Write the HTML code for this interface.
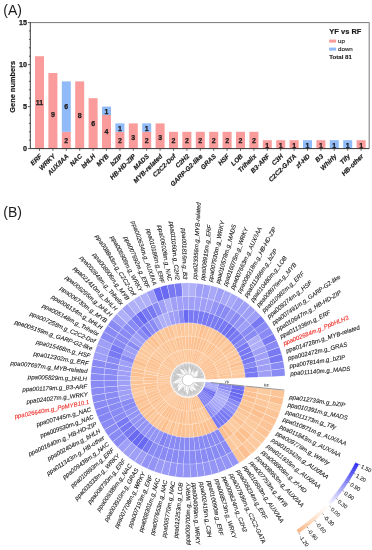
<!DOCTYPE html>
<html><head><meta charset="utf-8"><style>
html,body{margin:0;padding:0;background:#fff;width:372px;height:550px;overflow:hidden}
svg{display:block}
text{font-family:"Liberation Sans",Arial,sans-serif;fill:#1a1a1a}
.bv{font-size:7px;font-weight:bold;text-anchor:middle;stroke:#1a1a1a;stroke-width:0.25px}
.xl{font-size:6.5px;font-weight:bold;font-style:italic;text-anchor:end;stroke:#1a1a1a;stroke-width:0.18px}
.yl{font-size:7.2px;font-weight:bold;text-anchor:end;stroke:#1a1a1a;stroke-width:0.25px}
.yt{font-size:7.4px;font-weight:bold;text-anchor:middle;stroke:#1a1a1a;stroke-width:0.2px}
.lt{font-size:7.5px;font-weight:bold;stroke:#1a1a1a;stroke-width:0.15px}
.lg{font-size:6.2px;stroke:#1a1a1a;stroke-width:0.12px}
.lg2{font-size:6.1px;font-weight:bold;stroke:#1a1a1a;stroke-width:0.12px}
.gl{font-size:6.05px;font-style:italic;dominant-baseline:central;stroke:#1a1a1a;stroke-width:0.1px}
.tn{font-size:3.9px}
.cl{font-size:5.5px;dominant-baseline:central;stroke:#1a1a1a;stroke-width:0.08px}
</style></head><body>
<svg width="372" height="550" viewBox="0 0 372 550">
<rect width="372" height="550" fill="#fff"/>
<text x="3.3" y="15.2" font-size="14" font-family="Liberation Sans, sans-serif">(A)</text>
<text x="3.3" y="217.4" font-size="14" font-family="Liberation Sans, sans-serif">(B)</text>
<rect x="35.00" y="56.20" width="9.0" height="92.40" fill="#fb9c9c"/>
<text x="39.50" y="104.90" class="bv">11</text>
<line x1="39.50" y1="148.6" x2="39.50" y2="150.79999999999998" stroke="#222" stroke-width="0.7"/>
<text transform="translate(42.30,156.60) rotate(-45)" class="xl">ERF</text>
<rect x="48.40" y="73.00" width="9.0" height="75.60" fill="#fb9c9c"/>
<text x="52.90" y="117.00" class="bv">9</text>
<line x1="52.90" y1="148.6" x2="52.90" y2="150.79999999999998" stroke="#222" stroke-width="0.7"/>
<text transform="translate(55.70,156.60) rotate(-45)" class="xl">WRKY</text>
<rect x="61.80" y="131.80" width="9.0" height="16.80" fill="#fb9c9c"/>
<rect x="61.80" y="81.40" width="9.0" height="50.40" fill="#90bbf8"/>
<text x="66.30" y="142.70" class="bv">2</text>
<text x="66.30" y="109.10" class="bv">6</text>
<line x1="66.30" y1="148.6" x2="66.30" y2="150.79999999999998" stroke="#222" stroke-width="0.7"/>
<text transform="translate(69.10,156.60) rotate(-45)" class="xl">AUX/IAA</text>
<rect x="75.20" y="81.40" width="9.0" height="67.20" fill="#fb9c9c"/>
<text x="79.70" y="117.50" class="bv">8</text>
<line x1="79.70" y1="148.6" x2="79.70" y2="150.79999999999998" stroke="#222" stroke-width="0.7"/>
<text transform="translate(82.50,156.60) rotate(-45)" class="xl">NAC</text>
<rect x="88.60" y="98.20" width="9.0" height="50.40" fill="#fb9c9c"/>
<text x="93.10" y="125.90" class="bv">6</text>
<line x1="93.10" y1="148.6" x2="93.10" y2="150.79999999999998" stroke="#222" stroke-width="0.7"/>
<text transform="translate(95.90,156.60) rotate(-45)" class="xl">bHLH</text>
<rect x="102.00" y="115.00" width="9.0" height="33.60" fill="#fb9c9c"/>
<rect x="102.00" y="106.60" width="9.0" height="8.40" fill="#90bbf8"/>
<text x="106.50" y="134.30" class="bv">4</text>
<text x="106.50" y="114.10" class="bv">1</text>
<line x1="106.50" y1="148.6" x2="106.50" y2="150.79999999999998" stroke="#222" stroke-width="0.7"/>
<text transform="translate(109.30,156.60) rotate(-45)" class="xl">MYB</text>
<rect x="115.40" y="131.80" width="9.0" height="16.80" fill="#fb9c9c"/>
<rect x="115.40" y="123.40" width="9.0" height="8.40" fill="#90bbf8"/>
<text x="119.90" y="142.70" class="bv">2</text>
<text x="119.90" y="130.90" class="bv">1</text>
<line x1="119.90" y1="148.6" x2="119.90" y2="150.79999999999998" stroke="#222" stroke-width="0.7"/>
<text transform="translate(122.70,156.60) rotate(-45)" class="xl">bZIP</text>
<rect x="128.80" y="123.40" width="9.0" height="25.20" fill="#fb9c9c"/>
<text x="133.30" y="140.10" class="bv">3</text>
<line x1="133.30" y1="148.6" x2="133.30" y2="150.79999999999998" stroke="#222" stroke-width="0.7"/>
<text transform="translate(136.10,156.60) rotate(-45)" class="xl">HB-HD-ZIP</text>
<rect x="142.20" y="131.80" width="9.0" height="16.80" fill="#fb9c9c"/>
<rect x="142.20" y="123.40" width="9.0" height="8.40" fill="#90bbf8"/>
<text x="146.70" y="142.70" class="bv">2</text>
<text x="146.70" y="130.90" class="bv">1</text>
<line x1="146.70" y1="148.6" x2="146.70" y2="150.79999999999998" stroke="#222" stroke-width="0.7"/>
<text transform="translate(149.50,156.60) rotate(-45)" class="xl">MADS</text>
<rect x="155.60" y="123.40" width="9.0" height="25.20" fill="#fb9c9c"/>
<text x="160.10" y="140.10" class="bv">3</text>
<line x1="160.10" y1="148.6" x2="160.10" y2="150.79999999999998" stroke="#222" stroke-width="0.7"/>
<text transform="translate(162.90,156.60) rotate(-45)" class="xl">MYB-related</text>
<rect x="169.00" y="131.80" width="9.0" height="16.80" fill="#fb9c9c"/>
<text x="173.50" y="142.70" class="bv">2</text>
<line x1="173.50" y1="148.6" x2="173.50" y2="150.79999999999998" stroke="#222" stroke-width="0.7"/>
<text transform="translate(176.30,156.60) rotate(-45)" class="xl">C2C2-Dof</text>
<rect x="182.40" y="131.80" width="9.0" height="16.80" fill="#fb9c9c"/>
<text x="186.90" y="142.70" class="bv">2</text>
<line x1="186.90" y1="148.6" x2="186.90" y2="150.79999999999998" stroke="#222" stroke-width="0.7"/>
<text transform="translate(189.70,156.60) rotate(-45)" class="xl">C2H2</text>
<rect x="195.80" y="131.80" width="9.0" height="16.80" fill="#fb9c9c"/>
<text x="200.30" y="142.70" class="bv">2</text>
<line x1="200.30" y1="148.6" x2="200.30" y2="150.79999999999998" stroke="#222" stroke-width="0.7"/>
<text transform="translate(203.10,156.60) rotate(-45)" class="xl">GARP-G2-like</text>
<rect x="209.20" y="131.80" width="9.0" height="16.80" fill="#fb9c9c"/>
<text x="213.70" y="142.70" class="bv">2</text>
<line x1="213.70" y1="148.6" x2="213.70" y2="150.79999999999998" stroke="#222" stroke-width="0.7"/>
<text transform="translate(216.50,156.60) rotate(-45)" class="xl">GRAS</text>
<rect x="222.60" y="131.80" width="9.0" height="16.80" fill="#fb9c9c"/>
<text x="227.10" y="142.70" class="bv">2</text>
<line x1="227.10" y1="148.6" x2="227.10" y2="150.79999999999998" stroke="#222" stroke-width="0.7"/>
<text transform="translate(229.90,156.60) rotate(-45)" class="xl">HSF</text>
<rect x="236.00" y="131.80" width="9.0" height="16.80" fill="#fb9c9c"/>
<text x="240.50" y="142.70" class="bv">2</text>
<line x1="240.50" y1="148.6" x2="240.50" y2="150.79999999999998" stroke="#222" stroke-width="0.7"/>
<text transform="translate(243.30,156.60) rotate(-45)" class="xl">LOB</text>
<rect x="249.40" y="131.80" width="9.0" height="16.80" fill="#fb9c9c"/>
<text x="253.90" y="142.70" class="bv">2</text>
<line x1="253.90" y1="148.6" x2="253.90" y2="150.79999999999998" stroke="#222" stroke-width="0.7"/>
<text transform="translate(256.70,156.60) rotate(-45)" class="xl">Trihelix</text>
<rect x="262.80" y="140.20" width="9.0" height="8.40" fill="#fb9c9c"/>
<text x="267.30" y="147.50" class="bv">1</text>
<line x1="267.30" y1="148.6" x2="267.30" y2="150.79999999999998" stroke="#222" stroke-width="0.7"/>
<text transform="translate(270.10,156.60) rotate(-45)" class="xl">B3-ARF</text>
<rect x="276.20" y="140.20" width="9.0" height="8.40" fill="#fb9c9c"/>
<text x="280.70" y="147.50" class="bv">1</text>
<line x1="280.70" y1="148.6" x2="280.70" y2="150.79999999999998" stroke="#222" stroke-width="0.7"/>
<text transform="translate(283.50,156.60) rotate(-45)" class="xl">C3H</text>
<rect x="289.60" y="140.20" width="9.0" height="8.40" fill="#fb9c9c"/>
<text x="294.10" y="147.50" class="bv">1</text>
<line x1="294.10" y1="148.6" x2="294.10" y2="150.79999999999998" stroke="#222" stroke-width="0.7"/>
<text transform="translate(296.90,156.60) rotate(-45)" class="xl">C2C2-GATA</text>
<rect x="303.00" y="140.20" width="9.0" height="8.40" fill="#90bbf8"/>
<text x="307.50" y="147.70" class="bv">1</text>
<line x1="307.50" y1="148.6" x2="307.50" y2="150.79999999999998" stroke="#222" stroke-width="0.7"/>
<text transform="translate(310.30,156.60) rotate(-45)" class="xl">zf-HD</text>
<rect x="316.40" y="140.20" width="9.0" height="8.40" fill="#fb9c9c"/>
<text x="320.90" y="147.50" class="bv">1</text>
<line x1="320.90" y1="148.6" x2="320.90" y2="150.79999999999998" stroke="#222" stroke-width="0.7"/>
<text transform="translate(323.70,156.60) rotate(-45)" class="xl">B3</text>
<rect x="329.80" y="140.20" width="9.0" height="8.40" fill="#90bbf8"/>
<text x="334.30" y="147.70" class="bv">1</text>
<line x1="334.30" y1="148.6" x2="334.30" y2="150.79999999999998" stroke="#222" stroke-width="0.7"/>
<text transform="translate(337.10,156.60) rotate(-45)" class="xl">Whirly</text>
<rect x="343.20" y="140.20" width="9.0" height="8.40" fill="#90bbf8"/>
<text x="347.70" y="147.70" class="bv">1</text>
<line x1="347.70" y1="148.6" x2="347.70" y2="150.79999999999998" stroke="#222" stroke-width="0.7"/>
<text transform="translate(350.50,156.60) rotate(-45)" class="xl">Tify</text>
<rect x="356.60" y="140.20" width="9.0" height="8.40" fill="#fb9c9c"/>
<text x="361.10" y="147.50" class="bv">1</text>
<line x1="361.10" y1="148.6" x2="361.10" y2="150.79999999999998" stroke="#222" stroke-width="0.7"/>
<text transform="translate(363.90,156.60) rotate(-45)" class="xl">HB-other</text>
<path d="M30.3,22.599999999999994 H369.2 V148.6" fill="none" stroke="#555" stroke-width="0.8"/>
<line x1="30.3" y1="22.199999999999996" x2="30.3" y2="149.0" stroke="#222" stroke-width="0.9"/>
<line x1="30.3" y1="148.6" x2="369.2" y2="148.6" stroke="#222" stroke-width="0.9"/>
<line x1="27.90" y1="148.60" x2="30.3" y2="148.60" stroke="#222" stroke-width="0.7"/>
<text x="27.10" y="151.10" class="yl">0</text>
<line x1="28.90" y1="140.20" x2="30.3" y2="140.20" stroke="#222" stroke-width="0.7"/>
<line x1="28.90" y1="131.80" x2="30.3" y2="131.80" stroke="#222" stroke-width="0.7"/>
<line x1="28.90" y1="123.40" x2="30.3" y2="123.40" stroke="#222" stroke-width="0.7"/>
<line x1="28.90" y1="115.00" x2="30.3" y2="115.00" stroke="#222" stroke-width="0.7"/>
<line x1="27.90" y1="106.60" x2="30.3" y2="106.60" stroke="#222" stroke-width="0.7"/>
<text x="27.10" y="109.10" class="yl">5</text>
<line x1="28.90" y1="98.20" x2="30.3" y2="98.20" stroke="#222" stroke-width="0.7"/>
<line x1="28.90" y1="89.80" x2="30.3" y2="89.80" stroke="#222" stroke-width="0.7"/>
<line x1="28.90" y1="81.40" x2="30.3" y2="81.40" stroke="#222" stroke-width="0.7"/>
<line x1="28.90" y1="73.00" x2="30.3" y2="73.00" stroke="#222" stroke-width="0.7"/>
<line x1="27.90" y1="64.60" x2="30.3" y2="64.60" stroke="#222" stroke-width="0.7"/>
<text x="27.10" y="67.10" class="yl">10</text>
<line x1="28.90" y1="56.20" x2="30.3" y2="56.20" stroke="#222" stroke-width="0.7"/>
<line x1="28.90" y1="47.80" x2="30.3" y2="47.80" stroke="#222" stroke-width="0.7"/>
<line x1="28.90" y1="39.40" x2="30.3" y2="39.40" stroke="#222" stroke-width="0.7"/>
<line x1="28.90" y1="31.00" x2="30.3" y2="31.00" stroke="#222" stroke-width="0.7"/>
<line x1="27.90" y1="22.60" x2="30.3" y2="22.60" stroke="#222" stroke-width="0.7"/>
<text x="27.10" y="25.10" class="yl">15</text>
<text transform="translate(14.9,86.8) rotate(-90)" class="yt">Gene numbers</text>
<text x="329.3" y="34.4" class="lt">YF vs RF</text>
<rect x="329.1" y="39.6" width="7" height="3" fill="#fb9c9c"/>
<rect x="329.1" y="47.6" width="7" height="3" fill="#90bbf8"/>
<text x="338" y="43.2" class="lg">up</text>
<text x="338" y="51.2" class="lg">down</text>
<text x="329.3" y="59.3" class="lg2">Total 81</text>
<g>
<path d="M218.57,383.53A30.85,30.85 0 0 1 218.23,385.84L205.20,383.42A17.60,17.60 0 0 0 205.40,382.10Z" fill="#a8a8f8" stroke="#a8a8f8" stroke-width="0.15"/>
<path d="M231.74,384.96A44.10,44.10 0 0 1 231.26,388.26L218.23,385.84A30.85,30.85 0 0 0 218.57,383.53Z" fill="#8a8af5" stroke="#8a8af5" stroke-width="0.15"/>
<path d="M244.91,386.39A57.35,57.35 0 0 1 244.28,390.69L231.26,388.26A44.10,44.10 0 0 0 231.74,384.96Z" fill="#7171f2" stroke="#7171f2" stroke-width="0.15"/>
<path d="M258.09,387.82A70.60,70.60 0 0 1 257.31,393.11L244.28,390.69A57.35,57.35 0 0 0 244.91,386.39Z" fill="#fcc496" stroke="#fcc698" stroke-width="0.15"/>
<path d="M271.26,389.26A83.85,83.85 0 0 1 270.34,395.53L257.31,393.11A70.60,70.60 0 0 0 258.09,387.82Z" fill="#fcca9f" stroke="#fcc596" stroke-width="0.15"/>
<path d="M284.43,390.69A97.10,97.10 0 0 1 283.36,397.95L270.34,395.53A83.85,83.85 0 0 0 271.26,389.26Z" fill="#fcc597" stroke="#fcc699" stroke-width="0.15"/>
<path d="M218.23,385.84A30.85,30.85 0 0 1 217.72,388.12L204.91,384.72A17.60,17.60 0 0 0 205.20,383.42Z" fill="#a8a8f8" stroke="#a8a8f8" stroke-width="0.15"/>
<path d="M231.26,388.26A44.10,44.10 0 0 1 230.52,391.52L217.72,388.12A30.85,30.85 0 0 0 218.23,385.84Z" fill="#8a8af5" stroke="#8a8af5" stroke-width="0.15"/>
<path d="M244.28,390.69A57.35,57.35 0 0 1 243.33,394.92L230.52,391.52A44.10,44.10 0 0 0 231.26,388.26Z" fill="#6969f1" stroke="#6969f1" stroke-width="0.15"/>
<path d="M257.31,393.11A70.60,70.60 0 0 1 256.14,398.32L243.33,394.92A57.35,57.35 0 0 0 244.28,390.69Z" fill="#fcc191" stroke="#fcc597" stroke-width="0.15"/>
<path d="M270.34,395.53A83.85,83.85 0 0 1 268.94,401.72L256.14,398.32A70.60,70.60 0 0 0 257.31,393.11Z" fill="#fcc799" stroke="#fcc99c" stroke-width="0.15"/>
<path d="M283.36,397.95A97.10,97.10 0 0 1 281.75,405.12L268.94,401.72A83.85,83.85 0 0 0 270.34,395.53Z" fill="#fcc090" stroke="#fcc393" stroke-width="0.15"/>
<path d="M217.72,388.12A30.85,30.85 0 0 1 217.03,390.35L204.52,385.99A17.60,17.60 0 0 0 204.91,384.72Z" fill="#a8a8f8" stroke="#a8a8f8" stroke-width="0.15"/>
<path d="M230.52,391.52A44.10,44.10 0 0 1 229.55,394.71L217.03,390.35A30.85,30.85 0 0 0 217.72,388.12Z" fill="#9f9ff7" stroke="#9f9ff7" stroke-width="0.15"/>
<path d="M243.33,394.92A57.35,57.35 0 0 1 242.06,399.07L229.55,394.71A44.10,44.10 0 0 0 230.52,391.52Z" fill="#6969f1" stroke="#6969f1" stroke-width="0.15"/>
<path d="M256.14,398.32A70.60,70.60 0 0 1 254.57,403.43L242.06,399.07A57.35,57.35 0 0 0 243.33,394.92Z" fill="#fcc090" stroke="#fcc99d" stroke-width="0.15"/>
<path d="M268.94,401.72A83.85,83.85 0 0 1 267.08,407.79L254.57,403.43A70.60,70.60 0 0 0 256.14,398.32Z" fill="#fcc79a" stroke="#fcc08f" stroke-width="0.15"/>
<path d="M281.75,405.12A97.10,97.10 0 0 1 279.59,412.14L267.08,407.79A83.85,83.85 0 0 0 268.94,401.72Z" fill="#fccba0" stroke="#fccb9f" stroke-width="0.15"/>
<path d="M217.03,390.35A30.85,30.85 0 0 1 216.18,392.52L204.03,387.23A17.60,17.60 0 0 0 204.52,385.99Z" fill="#9f9ff7" stroke="#9f9ff7" stroke-width="0.15"/>
<path d="M229.55,394.71A44.10,44.10 0 0 1 228.33,397.82L216.18,392.52A30.85,30.85 0 0 0 217.03,390.35Z" fill="#a8a8f8" stroke="#a8a8f8" stroke-width="0.15"/>
<path d="M242.06,399.07A57.35,57.35 0 0 1 240.48,403.11L228.33,397.82A44.10,44.10 0 0 0 229.55,394.71Z" fill="#7171f2" stroke="#7171f2" stroke-width="0.15"/>
<path d="M254.57,403.43A70.60,70.60 0 0 1 252.62,408.40L240.48,403.11A57.35,57.35 0 0 0 242.06,399.07Z" fill="#fcc79a" stroke="#fcc699" stroke-width="0.15"/>
<path d="M267.08,407.79A83.85,83.85 0 0 1 264.77,413.69L252.62,408.40A70.60,70.60 0 0 0 254.57,403.43Z" fill="#fcc191" stroke="#fcbf8e" stroke-width="0.15"/>
<path d="M279.59,412.14A97.10,97.10 0 0 1 276.92,418.99L264.77,413.69A83.85,83.85 0 0 0 267.08,407.79Z" fill="#fcc598" stroke="#fcc08f" stroke-width="0.15"/>
<path d="M216.18,392.52A30.85,30.85 0 0 1 215.17,394.63L203.46,388.43A17.60,17.60 0 0 0 204.03,387.23Z" fill="#7171f2" stroke="#7171f2" stroke-width="0.15"/>
<path d="M228.33,397.82A44.10,44.10 0 0 1 226.88,400.82L215.17,394.63A30.85,30.85 0 0 0 216.18,392.52Z" fill="#b0b0f9" stroke="#b0b0f9" stroke-width="0.15"/>
<path d="M240.48,403.11A57.35,57.35 0 0 1 238.59,407.02L226.88,400.82A44.10,44.10 0 0 0 228.33,397.82Z" fill="#8a8af5" stroke="#8a8af5" stroke-width="0.15"/>
<path d="M252.62,408.40A70.60,70.60 0 0 1 250.31,413.21L238.59,407.02A57.35,57.35 0 0 0 240.48,403.11Z" fill="#fcc191" stroke="#fcc292" stroke-width="0.15"/>
<path d="M264.77,413.69A83.85,83.85 0 0 1 262.02,419.41L250.31,413.21A70.60,70.60 0 0 0 252.62,408.40Z" fill="#fcbf8f" stroke="#fcc596" stroke-width="0.15"/>
<path d="M276.92,418.99A97.10,97.10 0 0 1 273.73,425.60L262.02,419.41A83.85,83.85 0 0 0 264.77,413.69Z" fill="#fcc496" stroke="#fcc99d" stroke-width="0.15"/>
<path d="M215.17,394.63A30.85,30.85 0 0 1 214.00,396.65L202.79,389.58A17.60,17.60 0 0 0 203.46,388.43Z" fill="#6969f1" stroke="#6969f1" stroke-width="0.15"/>
<path d="M226.88,400.82A44.10,44.10 0 0 1 225.21,403.71L214.00,396.65A30.85,30.85 0 0 0 215.17,394.63Z" fill="#b0b0f9" stroke="#b0b0f9" stroke-width="0.15"/>
<path d="M238.59,407.02A57.35,57.35 0 0 1 236.42,410.77L225.21,403.71A44.10,44.10 0 0 0 226.88,400.82Z" fill="#9494f6" stroke="#9494f6" stroke-width="0.15"/>
<path d="M250.31,413.21A70.60,70.60 0 0 1 247.63,417.84L236.42,410.77A57.35,57.35 0 0 0 238.59,407.02Z" fill="#fcc597" stroke="#fcc79a" stroke-width="0.15"/>
<path d="M262.02,419.41A83.85,83.85 0 0 1 258.84,424.90L247.63,417.84A70.60,70.60 0 0 0 250.31,413.21Z" fill="#fcc597" stroke="#fcc79a" stroke-width="0.15"/>
<path d="M273.73,425.60A97.10,97.10 0 0 1 270.05,431.96L258.84,424.90A83.85,83.85 0 0 0 262.02,419.41Z" fill="#fcc496" stroke="#fcc293" stroke-width="0.15"/>
<path d="M214.00,396.65A30.85,30.85 0 0 1 212.68,398.57L202.04,390.68A17.60,17.60 0 0 0 202.79,389.58Z" fill="#7979f3" stroke="#7979f3" stroke-width="0.15"/>
<path d="M225.21,403.71A44.10,44.10 0 0 1 223.33,406.46L212.68,398.57A30.85,30.85 0 0 0 214.00,396.65Z" fill="#b0b0f9" stroke="#b0b0f9" stroke-width="0.15"/>
<path d="M236.42,410.77A57.35,57.35 0 0 1 233.97,414.35L223.33,406.46A44.10,44.10 0 0 0 225.21,403.71Z" fill="#9494f6" stroke="#9494f6" stroke-width="0.15"/>
<path d="M247.63,417.84A70.60,70.60 0 0 1 244.62,422.24L233.97,414.35A57.35,57.35 0 0 0 236.42,410.77Z" fill="#fccba0" stroke="#fccba0" stroke-width="0.15"/>
<path d="M258.84,424.90A83.85,83.85 0 0 1 255.26,430.14L244.62,422.24A70.60,70.60 0 0 0 247.63,417.84Z" fill="#fcc99d" stroke="#fcc79b" stroke-width="0.15"/>
<path d="M270.05,431.96A97.10,97.10 0 0 1 265.90,438.03L255.26,430.14A83.85,83.85 0 0 0 258.84,424.90Z" fill="#fcc394" stroke="#fcc292" stroke-width="0.15"/>
<path d="M212.68,398.57A30.85,30.85 0 0 1 211.22,400.39L201.21,391.72A17.60,17.60 0 0 0 202.04,390.68Z" fill="#8282f4" stroke="#8282f4" stroke-width="0.15"/>
<path d="M223.33,406.46A44.10,44.10 0 0 1 221.24,409.07L211.22,400.39A30.85,30.85 0 0 0 212.68,398.57Z" fill="#a8a8f8" stroke="#a8a8f8" stroke-width="0.15"/>
<path d="M233.97,414.35A57.35,57.35 0 0 1 231.26,417.74L221.24,409.07A44.10,44.10 0 0 0 223.33,406.46Z" fill="#8282f4" stroke="#8282f4" stroke-width="0.15"/>
<path d="M244.62,422.24A70.60,70.60 0 0 1 241.27,426.41L231.26,417.74A57.35,57.35 0 0 0 233.97,414.35Z" fill="#fcc293" stroke="#fcc08f" stroke-width="0.15"/>
<path d="M255.26,430.14A83.85,83.85 0 0 1 251.29,435.08L241.27,426.41A70.60,70.60 0 0 0 244.62,422.24Z" fill="#fcc89c" stroke="#fcc495" stroke-width="0.15"/>
<path d="M265.90,438.03A97.10,97.10 0 0 1 261.31,443.76L251.29,435.08A83.85,83.85 0 0 0 255.26,430.14Z" fill="#fcc99d" stroke="#fcc495" stroke-width="0.15"/>
<path d="M211.22,400.39A30.85,30.85 0 0 1 209.63,402.10L200.30,392.69A17.60,17.60 0 0 0 201.21,391.72Z" fill="#8282f4" stroke="#8282f4" stroke-width="0.15"/>
<path d="M221.24,409.07A44.10,44.10 0 0 1 218.96,411.50L209.63,402.10A30.85,30.85 0 0 0 211.22,400.39Z" fill="#a8a8f8" stroke="#a8a8f8" stroke-width="0.15"/>
<path d="M231.26,417.74A57.35,57.35 0 0 1 228.29,420.91L218.96,411.50A44.10,44.10 0 0 0 221.24,409.07Z" fill="#7979f3" stroke="#7979f3" stroke-width="0.15"/>
<path d="M241.27,426.41A70.60,70.60 0 0 1 237.63,430.31L228.29,420.91A57.35,57.35 0 0 0 231.26,417.74Z" fill="#fcca9f" stroke="#fcc99d" stroke-width="0.15"/>
<path d="M251.29,435.08A83.85,83.85 0 0 1 246.96,439.72L237.63,430.31A70.60,70.60 0 0 0 241.27,426.41Z" fill="#fcbf8e" stroke="#fcc292" stroke-width="0.15"/>
<path d="M261.31,443.76A97.10,97.10 0 0 1 256.29,449.13L246.96,439.72A83.85,83.85 0 0 0 251.29,435.08Z" fill="#fcca9e" stroke="#fcc596" stroke-width="0.15"/>
<path d="M209.63,402.10A30.85,30.85 0 0 1 207.91,403.68L199.32,393.59A17.60,17.60 0 0 0 200.30,392.69Z" fill="#8282f4" stroke="#8282f4" stroke-width="0.15"/>
<path d="M218.96,411.50A44.10,44.10 0 0 1 216.51,413.76L207.91,403.68A30.85,30.85 0 0 0 209.63,402.10Z" fill="#9f9ff7" stroke="#9f9ff7" stroke-width="0.15"/>
<path d="M228.29,420.91A57.35,57.35 0 0 1 225.10,423.85L216.51,413.76A44.10,44.10 0 0 0 218.96,411.50Z" fill="#7979f3" stroke="#7979f3" stroke-width="0.15"/>
<path d="M237.63,430.31A70.60,70.60 0 0 1 233.70,433.93L225.10,423.85A57.35,57.35 0 0 0 228.29,420.91Z" fill="#fccba0" stroke="#fcc495" stroke-width="0.15"/>
<path d="M246.96,439.72A83.85,83.85 0 0 1 242.29,444.02L233.70,433.93A70.60,70.60 0 0 0 237.63,430.31Z" fill="#fcc08f" stroke="#fcc799" stroke-width="0.15"/>
<path d="M256.29,449.13A97.10,97.10 0 0 1 250.89,454.10L242.29,444.02A83.85,83.85 0 0 0 246.96,439.72Z" fill="#fcc89c" stroke="#fcc293" stroke-width="0.15"/>
<path d="M207.91,403.68A30.85,30.85 0 0 1 206.08,405.12L198.27,394.42A17.60,17.60 0 0 0 199.32,393.59Z" fill="#8282f4" stroke="#8282f4" stroke-width="0.15"/>
<path d="M216.51,413.76A44.10,44.10 0 0 1 213.89,415.83L206.08,405.12A30.85,30.85 0 0 0 207.91,403.68Z" fill="#9494f6" stroke="#9494f6" stroke-width="0.15"/>
<path d="M225.10,423.85A57.35,57.35 0 0 1 221.70,426.53L213.89,415.83A44.10,44.10 0 0 0 216.51,413.76Z" fill="#7979f3" stroke="#7979f3" stroke-width="0.15"/>
<path d="M233.70,433.93A70.60,70.60 0 0 1 229.50,437.24L221.70,426.53A57.35,57.35 0 0 0 225.10,423.85Z" fill="#fcc090" stroke="#fcc394" stroke-width="0.15"/>
<path d="M242.29,444.02A83.85,83.85 0 0 1 237.31,447.94L229.50,437.24A70.60,70.60 0 0 0 233.70,433.93Z" fill="#fccb9f" stroke="#fcc89c" stroke-width="0.15"/>
<path d="M250.89,454.10A97.10,97.10 0 0 1 245.12,458.65L237.31,447.94A83.85,83.85 0 0 0 242.29,444.02Z" fill="#fcc090" stroke="#fcc292" stroke-width="0.15"/>
<path d="M206.08,405.12A30.85,30.85 0 0 1 204.14,406.43L197.17,395.16A17.60,17.60 0 0 0 198.27,394.42Z" fill="#8282f4" stroke="#8282f4" stroke-width="0.15"/>
<path d="M213.89,415.83A44.10,44.10 0 0 1 211.12,417.69L204.14,406.43A30.85,30.85 0 0 0 206.08,405.12Z" fill="#8a8af5" stroke="#8a8af5" stroke-width="0.15"/>
<path d="M221.70,426.53A57.35,57.35 0 0 1 218.10,428.96L211.12,417.69A44.10,44.10 0 0 0 213.89,415.83Z" fill="#7979f3" stroke="#7979f3" stroke-width="0.15"/>
<path d="M229.50,437.24A70.60,70.60 0 0 1 225.07,440.22L218.10,428.96A57.35,57.35 0 0 0 221.70,426.53Z" fill="#fcc090" stroke="#fcc08f" stroke-width="0.15"/>
<path d="M237.31,447.94A83.85,83.85 0 0 1 232.05,451.49L225.07,440.22A70.60,70.60 0 0 0 229.50,437.24Z" fill="#fcc99c" stroke="#fcc191" stroke-width="0.15"/>
<path d="M245.12,458.65A97.10,97.10 0 0 1 239.02,462.75L232.05,451.49A83.85,83.85 0 0 0 237.31,447.94Z" fill="#fcc698" stroke="#fcc496" stroke-width="0.15"/>
<path d="M204.14,406.43A30.85,30.85 0 0 1 202.11,407.58L196.01,395.82A17.60,17.60 0 0 0 197.17,395.16Z" fill="#fcc191" stroke="#fcc89b" stroke-width="0.15"/>
<path d="M211.12,417.69A44.10,44.10 0 0 1 208.22,419.34L202.11,407.58A30.85,30.85 0 0 0 204.14,406.43Z" fill="#fcc190" stroke="#fcc79a" stroke-width="0.15"/>
<path d="M218.10,428.96A57.35,57.35 0 0 1 214.32,431.10L208.22,419.34A44.10,44.10 0 0 0 211.12,417.69Z" fill="#fcc090" stroke="#fcc496" stroke-width="0.15"/>
<path d="M225.07,440.22A70.60,70.60 0 0 1 220.43,442.86L214.32,431.10A57.35,57.35 0 0 0 218.10,428.96Z" fill="#8a8af5" stroke="#8a8af5" stroke-width="0.15"/>
<path d="M232.05,451.49A83.85,83.85 0 0 1 226.53,454.62L220.43,442.86A70.60,70.60 0 0 0 225.07,440.22Z" fill="#8a8af5" stroke="#8a8af5" stroke-width="0.15"/>
<path d="M239.02,462.75A97.10,97.10 0 0 1 232.64,466.38L226.53,454.62A83.85,83.85 0 0 0 232.05,451.49Z" fill="#9494f6" stroke="#9494f6" stroke-width="0.15"/>
<path d="M202.11,407.58A30.85,30.85 0 0 1 200.00,408.58L194.80,396.39A17.60,17.60 0 0 0 196.01,395.82Z" fill="#fcc292" stroke="#fcc293" stroke-width="0.15"/>
<path d="M208.22,419.34A44.10,44.10 0 0 1 205.20,420.76L200.00,408.58A30.85,30.85 0 0 0 202.11,407.58Z" fill="#fccb9f" stroke="#fcc99c" stroke-width="0.15"/>
<path d="M214.32,431.10A57.35,57.35 0 0 1 210.40,432.95L205.20,420.76A44.10,44.10 0 0 0 208.22,419.34Z" fill="#fcc393" stroke="#fcca9e" stroke-width="0.15"/>
<path d="M220.43,442.86A70.60,70.60 0 0 1 215.60,445.14L210.40,432.95A57.35,57.35 0 0 0 214.32,431.10Z" fill="#8a8af5" stroke="#8a8af5" stroke-width="0.15"/>
<path d="M226.53,454.62A83.85,83.85 0 0 1 220.80,457.33L215.60,445.14A70.60,70.60 0 0 0 220.43,442.86Z" fill="#8a8af5" stroke="#8a8af5" stroke-width="0.15"/>
<path d="M232.64,466.38A97.10,97.10 0 0 1 225.99,469.52L220.80,457.33A83.85,83.85 0 0 0 226.53,454.62Z" fill="#9494f6" stroke="#9494f6" stroke-width="0.15"/>
<path d="M200.00,408.58A30.85,30.85 0 0 1 197.82,409.41L193.56,396.86A17.60,17.60 0 0 0 194.80,396.39Z" fill="#fcc292" stroke="#fcc495" stroke-width="0.15"/>
<path d="M205.20,420.76A44.10,44.10 0 0 1 202.08,421.96L197.82,409.41A30.85,30.85 0 0 0 200.00,408.58Z" fill="#fcc99d" stroke="#fcc79a" stroke-width="0.15"/>
<path d="M210.40,432.95A57.35,57.35 0 0 1 206.35,434.50L202.08,421.96A44.10,44.10 0 0 0 205.20,420.76Z" fill="#fcc090" stroke="#fccba0" stroke-width="0.15"/>
<path d="M215.60,445.14A70.60,70.60 0 0 1 210.61,447.05L206.35,434.50A57.35,57.35 0 0 0 210.40,432.95Z" fill="#8a8af5" stroke="#8a8af5" stroke-width="0.15"/>
<path d="M220.80,457.33A83.85,83.85 0 0 1 214.87,459.59L210.61,447.05A70.60,70.60 0 0 0 215.60,445.14Z" fill="#8a8af5" stroke="#8a8af5" stroke-width="0.15"/>
<path d="M225.99,469.52A97.10,97.10 0 0 1 219.13,472.14L214.87,459.59A83.85,83.85 0 0 0 220.80,457.33Z" fill="#9494f6" stroke="#9494f6" stroke-width="0.15"/>
<path d="M197.82,409.41A30.85,30.85 0 0 1 195.59,410.08L192.29,397.24A17.60,17.60 0 0 0 193.56,396.86Z" fill="#fcc292" stroke="#fcc293" stroke-width="0.15"/>
<path d="M202.08,421.96A44.10,44.10 0 0 1 198.89,422.91L195.59,410.08A30.85,30.85 0 0 0 197.82,409.41Z" fill="#fcc89c" stroke="#fcc394" stroke-width="0.15"/>
<path d="M206.35,434.50A57.35,57.35 0 0 1 202.19,435.74L198.89,422.91A44.10,44.10 0 0 0 202.08,421.96Z" fill="#fcc393" stroke="#fcc08f" stroke-width="0.15"/>
<path d="M210.61,447.05A70.60,70.60 0 0 1 205.49,448.57L202.19,435.74A57.35,57.35 0 0 0 206.35,434.50Z" fill="#8a8af5" stroke="#8a8af5" stroke-width="0.15"/>
<path d="M214.87,459.59A83.85,83.85 0 0 1 208.79,461.41L205.49,448.57A70.60,70.60 0 0 0 210.61,447.05Z" fill="#8a8af5" stroke="#8a8af5" stroke-width="0.15"/>
<path d="M219.13,472.14A97.10,97.10 0 0 1 212.09,474.24L208.79,461.41A83.85,83.85 0 0 0 214.87,459.59Z" fill="#9494f6" stroke="#9494f6" stroke-width="0.15"/>
<path d="M195.59,410.08A30.85,30.85 0 0 1 193.31,410.57L190.98,397.53A17.60,17.60 0 0 0 192.29,397.24Z" fill="#fcc090" stroke="#fcc698" stroke-width="0.15"/>
<path d="M198.89,422.91A44.10,44.10 0 0 1 195.63,423.62L193.31,410.57A30.85,30.85 0 0 0 195.59,410.08Z" fill="#fcc292" stroke="#fcc699" stroke-width="0.15"/>
<path d="M202.19,435.74A57.35,57.35 0 0 1 197.95,436.66L195.63,423.62A44.10,44.10 0 0 0 198.89,422.91Z" fill="#fcc395" stroke="#fcc496" stroke-width="0.15"/>
<path d="M205.49,448.57A70.60,70.60 0 0 1 200.27,449.71L197.95,436.66A57.35,57.35 0 0 0 202.19,435.74Z" fill="#8a8af5" stroke="#8a8af5" stroke-width="0.15"/>
<path d="M208.79,461.41A83.85,83.85 0 0 1 202.59,462.75L200.27,449.71A70.60,70.60 0 0 0 205.49,448.57Z" fill="#8a8af5" stroke="#8a8af5" stroke-width="0.15"/>
<path d="M212.09,474.24A97.10,97.10 0 0 1 204.91,475.80L202.59,462.75A83.85,83.85 0 0 0 208.79,461.41Z" fill="#9494f6" stroke="#9494f6" stroke-width="0.15"/>
<path d="M193.31,410.57A30.85,30.85 0 0 1 190.99,410.89L189.67,397.71A17.60,17.60 0 0 0 190.98,397.53Z" fill="#fccb9f" stroke="#fcc597" stroke-width="0.15"/>
<path d="M195.63,423.62A44.10,44.10 0 0 1 192.32,424.08L190.99,410.89A30.85,30.85 0 0 0 193.31,410.57Z" fill="#fcc698" stroke="#fcc99e" stroke-width="0.15"/>
<path d="M197.95,436.66A57.35,57.35 0 0 1 193.65,437.26L192.32,424.08A44.10,44.10 0 0 0 195.63,423.62Z" fill="#fcc191" stroke="#fcc191" stroke-width="0.15"/>
<path d="M200.27,449.71A70.60,70.60 0 0 1 194.98,450.44L193.65,437.26A57.35,57.35 0 0 0 197.95,436.66Z" fill="#8a8af5" stroke="#8a8af5" stroke-width="0.15"/>
<path d="M202.59,462.75A83.85,83.85 0 0 1 196.31,463.63L194.98,450.44A70.60,70.60 0 0 0 200.27,449.71Z" fill="#8a8af5" stroke="#8a8af5" stroke-width="0.15"/>
<path d="M204.91,475.80A97.10,97.10 0 0 1 197.64,476.81L196.31,463.63A83.85,83.85 0 0 0 202.59,462.75Z" fill="#9494f6" stroke="#9494f6" stroke-width="0.15"/>
<path d="M190.99,410.89A30.85,30.85 0 0 1 188.66,411.04L188.34,397.79A17.60,17.60 0 0 0 189.67,397.71Z" fill="#fcca9e" stroke="#fcc99d" stroke-width="0.15"/>
<path d="M192.32,424.08A44.10,44.10 0 0 1 188.99,424.29L188.66,411.04A30.85,30.85 0 0 0 190.99,410.89Z" fill="#fcc292" stroke="#fcc191" stroke-width="0.15"/>
<path d="M193.65,437.26A57.35,57.35 0 0 1 189.32,437.53L188.99,424.29A44.10,44.10 0 0 0 192.32,424.08Z" fill="#fcc89b" stroke="#fcca9f" stroke-width="0.15"/>
<path d="M194.98,450.44A70.60,70.60 0 0 1 189.65,450.78L189.32,437.53A57.35,57.35 0 0 0 193.65,437.26Z" fill="#8a8af5" stroke="#8a8af5" stroke-width="0.15"/>
<path d="M196.31,463.63A83.85,83.85 0 0 1 189.98,464.02L189.65,450.78A70.60,70.60 0 0 0 194.98,450.44Z" fill="#8a8af5" stroke="#8a8af5" stroke-width="0.15"/>
<path d="M197.64,476.81A97.10,97.10 0 0 1 190.31,477.27L189.98,464.02A83.85,83.85 0 0 0 196.31,463.63Z" fill="#9494f6" stroke="#9494f6" stroke-width="0.15"/>
<path d="M188.66,411.04A30.85,30.85 0 0 1 186.33,411.01L187.00,397.78A17.60,17.60 0 0 0 188.34,397.79Z" fill="#fcc192" stroke="#fcca9f" stroke-width="0.15"/>
<path d="M188.99,424.29A44.10,44.10 0 0 1 185.66,424.24L186.33,411.01A30.85,30.85 0 0 0 188.66,411.04Z" fill="#fcca9e" stroke="#fcc699" stroke-width="0.15"/>
<path d="M189.32,437.53A57.35,57.35 0 0 1 184.98,437.48L185.66,424.24A44.10,44.10 0 0 0 188.99,424.29Z" fill="#fcc496" stroke="#fcc090" stroke-width="0.15"/>
<path d="M189.65,450.78A70.60,70.60 0 0 1 184.31,450.71L184.98,437.48A57.35,57.35 0 0 0 189.32,437.53Z" fill="#8a8af5" stroke="#8a8af5" stroke-width="0.15"/>
<path d="M189.98,464.02A83.85,83.85 0 0 1 183.63,463.94L184.31,450.71A70.60,70.60 0 0 0 189.65,450.78Z" fill="#8a8af5" stroke="#8a8af5" stroke-width="0.15"/>
<path d="M190.31,477.27A97.10,97.10 0 0 1 182.96,477.17L183.63,463.94A83.85,83.85 0 0 0 189.98,464.02Z" fill="#9494f6" stroke="#9494f6" stroke-width="0.15"/>
<path d="M186.33,411.01A30.85,30.85 0 0 1 184.01,410.80L185.68,397.66A17.60,17.60 0 0 0 187.00,397.78Z" fill="#fcbf8f" stroke="#fccb9f" stroke-width="0.15"/>
<path d="M185.66,424.24A44.10,44.10 0 0 1 182.33,423.95L184.01,410.80A30.85,30.85 0 0 0 186.33,411.01Z" fill="#fcc292" stroke="#fcc79b" stroke-width="0.15"/>
<path d="M184.98,437.48A57.35,57.35 0 0 1 180.66,437.09L182.33,423.95A44.10,44.10 0 0 0 185.66,424.24Z" fill="#fcc293" stroke="#fcc99d" stroke-width="0.15"/>
<path d="M184.31,450.71A70.60,70.60 0 0 1 178.99,450.24L180.66,437.09A57.35,57.35 0 0 0 184.98,437.48Z" fill="#8a8af5" stroke="#8a8af5" stroke-width="0.15"/>
<path d="M183.63,463.94A83.85,83.85 0 0 1 177.32,463.38L178.99,450.24A70.60,70.60 0 0 0 184.31,450.71Z" fill="#8a8af5" stroke="#8a8af5" stroke-width="0.15"/>
<path d="M182.96,477.17A97.10,97.10 0 0 1 175.64,476.52L177.32,463.38A83.85,83.85 0 0 0 183.63,463.94Z" fill="#9494f6" stroke="#9494f6" stroke-width="0.15"/>
<path d="M184.01,410.80A30.85,30.85 0 0 1 181.70,410.42L184.36,397.44A17.60,17.60 0 0 0 185.68,397.66Z" fill="#fcc699" stroke="#fcc393" stroke-width="0.15"/>
<path d="M182.33,423.95A44.10,44.10 0 0 1 179.04,423.40L181.70,410.42A30.85,30.85 0 0 0 184.01,410.80Z" fill="#fcc191" stroke="#fcc89b" stroke-width="0.15"/>
<path d="M180.66,437.09A57.35,57.35 0 0 1 176.38,436.38L179.04,423.40A44.10,44.10 0 0 0 182.33,423.95Z" fill="#fcc08f" stroke="#fcc292" stroke-width="0.15"/>
<path d="M178.99,450.24A70.60,70.60 0 0 1 173.72,449.36L176.38,436.38A57.35,57.35 0 0 0 180.66,437.09Z" fill="#8a8af5" stroke="#8a8af5" stroke-width="0.15"/>
<path d="M177.32,463.38A83.85,83.85 0 0 1 171.06,462.34L173.72,449.36A70.60,70.60 0 0 0 178.99,450.24Z" fill="#8a8af5" stroke="#8a8af5" stroke-width="0.15"/>
<path d="M175.64,476.52A97.10,97.10 0 0 1 168.40,475.32L171.06,462.34A83.85,83.85 0 0 0 177.32,463.38Z" fill="#9494f6" stroke="#9494f6" stroke-width="0.15"/>
<path d="M181.70,410.42A30.85,30.85 0 0 1 179.44,409.87L183.07,397.12A17.60,17.60 0 0 0 184.36,397.44Z" fill="#fcc698" stroke="#fcc99d" stroke-width="0.15"/>
<path d="M179.04,423.40A44.10,44.10 0 0 1 175.80,422.61L179.44,409.87A30.85,30.85 0 0 0 181.70,410.42Z" fill="#fcc699" stroke="#fcc293" stroke-width="0.15"/>
<path d="M176.38,436.38A57.35,57.35 0 0 1 172.17,435.35L175.80,422.61A44.10,44.10 0 0 0 179.04,423.40Z" fill="#fcca9f" stroke="#fcc192" stroke-width="0.15"/>
<path d="M173.72,449.36A70.60,70.60 0 0 1 168.53,448.09L172.17,435.35A57.35,57.35 0 0 0 176.38,436.38Z" fill="#8a8af5" stroke="#8a8af5" stroke-width="0.15"/>
<path d="M171.06,462.34A83.85,83.85 0 0 1 164.90,460.83L168.53,448.09A70.60,70.60 0 0 0 173.72,449.36Z" fill="#8a8af5" stroke="#8a8af5" stroke-width="0.15"/>
<path d="M168.40,475.32A97.10,97.10 0 0 1 161.26,473.57L164.90,460.83A83.85,83.85 0 0 0 171.06,462.34Z" fill="#9b9bf7" stroke="#9b9bf7" stroke-width="0.15"/>
<path d="M179.44,409.87A30.85,30.85 0 0 1 177.22,409.14L181.81,396.71A17.60,17.60 0 0 0 183.07,397.12Z" fill="#fcbf8e" stroke="#fcc293" stroke-width="0.15"/>
<path d="M175.80,422.61A44.10,44.10 0 0 1 172.63,421.57L177.22,409.14A30.85,30.85 0 0 0 179.44,409.87Z" fill="#fcc496" stroke="#fcc08f" stroke-width="0.15"/>
<path d="M172.17,435.35A57.35,57.35 0 0 1 168.04,434.00L172.63,421.57A44.10,44.10 0 0 0 175.80,422.61Z" fill="#fcc191" stroke="#fcc395" stroke-width="0.15"/>
<path d="M168.53,448.09A70.60,70.60 0 0 1 163.45,446.43L168.04,434.00A57.35,57.35 0 0 0 172.17,435.35Z" fill="#8a8af5" stroke="#8a8af5" stroke-width="0.15"/>
<path d="M164.90,460.83A83.85,83.85 0 0 1 158.87,458.86L163.45,446.43A70.60,70.60 0 0 0 168.53,448.09Z" fill="#8a8af5" stroke="#8a8af5" stroke-width="0.15"/>
<path d="M161.26,473.57A97.10,97.10 0 0 1 154.28,471.29L158.87,458.86A83.85,83.85 0 0 0 164.90,460.83Z" fill="#9b9bf7" stroke="#9b9bf7" stroke-width="0.15"/>
<path d="M177.22,409.14A30.85,30.85 0 0 1 175.06,408.25L180.57,396.20A17.60,17.60 0 0 0 181.81,396.71Z" fill="#fcc698" stroke="#fcc190" stroke-width="0.15"/>
<path d="M172.63,421.57A44.10,44.10 0 0 1 169.55,420.30L175.06,408.25A30.85,30.85 0 0 0 177.22,409.14Z" fill="#fcc395" stroke="#fcca9e" stroke-width="0.15"/>
<path d="M168.04,434.00A57.35,57.35 0 0 1 164.03,432.35L169.55,420.30A44.10,44.10 0 0 0 172.63,421.57Z" fill="#fccba0" stroke="#fcc79a" stroke-width="0.15"/>
<path d="M163.45,446.43A70.60,70.60 0 0 1 158.52,444.39L164.03,432.35A57.35,57.35 0 0 0 168.04,434.00Z" fill="#8282f4" stroke="#8282f4" stroke-width="0.15"/>
<path d="M158.87,458.86A83.85,83.85 0 0 1 153.00,456.44L158.52,444.39A70.60,70.60 0 0 0 163.45,446.43Z" fill="#8a8af5" stroke="#8a8af5" stroke-width="0.15"/>
<path d="M154.28,471.29A97.10,97.10 0 0 1 147.49,468.49L153.00,456.44A83.85,83.85 0 0 0 158.87,458.86Z" fill="#9494f6" stroke="#9494f6" stroke-width="0.15"/>
<path d="M175.06,408.25A30.85,30.85 0 0 1 172.98,407.20L179.39,395.60A17.60,17.60 0 0 0 180.57,396.20Z" fill="#fcc79a" stroke="#fcc699" stroke-width="0.15"/>
<path d="M169.55,420.30A44.10,44.10 0 0 1 166.57,418.80L172.98,407.20A30.85,30.85 0 0 0 175.06,408.25Z" fill="#fcc191" stroke="#fcbf8f" stroke-width="0.15"/>
<path d="M164.03,432.35A57.35,57.35 0 0 1 160.16,430.39L166.57,418.80A44.10,44.10 0 0 0 169.55,420.30Z" fill="#fcbf8e" stroke="#fcca9e" stroke-width="0.15"/>
<path d="M158.52,444.39A70.60,70.60 0 0 1 153.75,441.99L160.16,430.39A57.35,57.35 0 0 0 164.03,432.35Z" fill="#9494f6" stroke="#9494f6" stroke-width="0.15"/>
<path d="M153.00,456.44A83.85,83.85 0 0 1 147.34,453.59L153.75,441.99A70.60,70.60 0 0 0 158.52,444.39Z" fill="#8a8af5" stroke="#8a8af5" stroke-width="0.15"/>
<path d="M147.49,468.49A97.10,97.10 0 0 1 140.93,465.18L147.34,453.59A83.85,83.85 0 0 0 153.00,456.44Z" fill="#9494f6" stroke="#9494f6" stroke-width="0.15"/>
<path d="M172.98,407.20A30.85,30.85 0 0 1 170.98,405.99L178.25,394.92A17.60,17.60 0 0 0 179.39,395.60Z" fill="#fcc79b" stroke="#fccb9f" stroke-width="0.15"/>
<path d="M166.57,418.80A44.10,44.10 0 0 1 163.71,417.07L170.98,405.99A30.85,30.85 0 0 0 172.98,407.20Z" fill="#fcbf8e" stroke="#fcc799" stroke-width="0.15"/>
<path d="M160.16,430.39A57.35,57.35 0 0 1 156.44,428.15L163.71,417.07A44.10,44.10 0 0 0 166.57,418.80Z" fill="#fcc597" stroke="#fcc89b" stroke-width="0.15"/>
<path d="M153.75,441.99A70.60,70.60 0 0 1 149.17,439.23L156.44,428.15A57.35,57.35 0 0 0 160.16,430.39Z" fill="#9494f6" stroke="#9494f6" stroke-width="0.15"/>
<path d="M147.34,453.59A83.85,83.85 0 0 1 141.91,450.31L149.17,439.23A70.60,70.60 0 0 0 153.75,441.99Z" fill="#7979f3" stroke="#7979f3" stroke-width="0.15"/>
<path d="M140.93,465.18A97.10,97.10 0 0 1 134.64,461.39L141.91,450.31A83.85,83.85 0 0 0 147.34,453.59Z" fill="#9f9ff7" stroke="#9f9ff7" stroke-width="0.15"/>
<path d="M170.98,405.99A30.85,30.85 0 0 1 169.08,404.64L177.16,394.14A17.60,17.60 0 0 0 178.25,394.92Z" fill="#fcc394" stroke="#fccba0" stroke-width="0.15"/>
<path d="M163.71,417.07A44.10,44.10 0 0 1 160.99,415.14L169.08,404.64A30.85,30.85 0 0 0 170.98,405.99Z" fill="#fcc08f" stroke="#fcc698" stroke-width="0.15"/>
<path d="M156.44,428.15A57.35,57.35 0 0 1 152.91,425.64L160.99,415.14A44.10,44.10 0 0 0 163.71,417.07Z" fill="#fcc89b" stroke="#fcca9e" stroke-width="0.15"/>
<path d="M149.17,439.23A70.60,70.60 0 0 1 144.82,436.13L152.91,425.64A57.35,57.35 0 0 0 156.44,428.15Z" fill="#9494f6" stroke="#9494f6" stroke-width="0.15"/>
<path d="M141.91,450.31A83.85,83.85 0 0 1 136.74,446.63L144.82,436.13A70.60,70.60 0 0 0 149.17,439.23Z" fill="#6969f1" stroke="#6969f1" stroke-width="0.15"/>
<path d="M134.64,461.39A97.10,97.10 0 0 1 128.65,457.13L136.74,446.63A83.85,83.85 0 0 0 141.91,450.31Z" fill="#9f9ff7" stroke="#9f9ff7" stroke-width="0.15"/>
<path d="M169.08,404.64A30.85,30.85 0 0 1 167.28,403.15L176.14,393.29A17.60,17.60 0 0 0 177.16,394.14Z" fill="#fcc89b" stroke="#fcc79b" stroke-width="0.15"/>
<path d="M160.99,415.14A44.10,44.10 0 0 1 158.43,413.00L167.28,403.15A30.85,30.85 0 0 0 169.08,404.64Z" fill="#fcc99c" stroke="#fcca9e" stroke-width="0.15"/>
<path d="M152.91,425.64A57.35,57.35 0 0 1 149.57,422.86L158.43,413.00A44.10,44.10 0 0 0 160.99,415.14Z" fill="#fcc394" stroke="#fcc79a" stroke-width="0.15"/>
<path d="M144.82,436.13A70.60,70.60 0 0 1 140.72,432.72L149.57,422.86A57.35,57.35 0 0 0 152.91,425.64Z" fill="#9494f6" stroke="#9494f6" stroke-width="0.15"/>
<path d="M136.74,446.63A83.85,83.85 0 0 1 131.86,442.57L140.72,432.72A70.60,70.60 0 0 0 144.82,436.13Z" fill="#6969f1" stroke="#6969f1" stroke-width="0.15"/>
<path d="M128.65,457.13A97.10,97.10 0 0 1 123.01,452.43L131.86,442.57A83.85,83.85 0 0 0 136.74,446.63Z" fill="#9f9ff7" stroke="#9f9ff7" stroke-width="0.15"/>
<path d="M167.28,403.15A30.85,30.85 0 0 1 165.61,401.52L175.18,392.37A17.60,17.60 0 0 0 176.14,393.29Z" fill="#fcca9e" stroke="#fcc99e" stroke-width="0.15"/>
<path d="M158.43,413.00A44.10,44.10 0 0 1 156.03,410.68L165.61,401.52A30.85,30.85 0 0 0 167.28,403.15Z" fill="#fcc496" stroke="#fcc89c" stroke-width="0.15"/>
<path d="M149.57,422.86A57.35,57.35 0 0 1 146.46,419.84L156.03,410.68A44.10,44.10 0 0 0 158.43,413.00Z" fill="#fcc99e" stroke="#fcc698" stroke-width="0.15"/>
<path d="M140.72,432.72A70.60,70.60 0 0 1 136.88,429.00L146.46,419.84A57.35,57.35 0 0 0 149.57,422.86Z" fill="#9494f6" stroke="#9494f6" stroke-width="0.15"/>
<path d="M131.86,442.57A83.85,83.85 0 0 1 127.31,438.16L136.88,429.00A70.60,70.60 0 0 0 140.72,432.72Z" fill="#6969f1" stroke="#6969f1" stroke-width="0.15"/>
<path d="M123.01,452.43A97.10,97.10 0 0 1 117.73,447.32L127.31,438.16A83.85,83.85 0 0 0 131.86,442.57Z" fill="#9f9ff7" stroke="#9f9ff7" stroke-width="0.15"/>
<path d="M165.61,401.52A30.85,30.85 0 0 1 164.06,399.78L174.30,391.37A17.60,17.60 0 0 0 175.18,392.37Z" fill="#fcc699" stroke="#fcc495" stroke-width="0.15"/>
<path d="M156.03,410.68A44.10,44.10 0 0 1 153.82,408.19L164.06,399.78A30.85,30.85 0 0 0 165.61,401.52Z" fill="#fcc698" stroke="#fcc699" stroke-width="0.15"/>
<path d="M146.46,419.84A57.35,57.35 0 0 1 143.58,416.59L153.82,408.19A44.10,44.10 0 0 0 156.03,410.68Z" fill="#fcc08f" stroke="#fcc79a" stroke-width="0.15"/>
<path d="M136.88,429.00A70.60,70.60 0 0 1 133.34,425.00L143.58,416.59A57.35,57.35 0 0 0 146.46,419.84Z" fill="#9494f6" stroke="#9494f6" stroke-width="0.15"/>
<path d="M127.31,438.16A83.85,83.85 0 0 1 123.10,433.41L133.34,425.00A70.60,70.60 0 0 0 136.88,429.00Z" fill="#7979f3" stroke="#7979f3" stroke-width="0.15"/>
<path d="M117.73,447.32A97.10,97.10 0 0 1 112.86,441.82L123.10,433.41A83.85,83.85 0 0 0 127.31,438.16Z" fill="#8a8af5" stroke="#8a8af5" stroke-width="0.15"/>
<path d="M164.06,399.78A30.85,30.85 0 0 1 162.65,397.92L173.49,390.31A17.60,17.60 0 0 0 174.30,391.37Z" fill="#fccba0" stroke="#fcca9e" stroke-width="0.15"/>
<path d="M153.82,408.19A44.10,44.10 0 0 1 151.80,405.53L162.65,397.92A30.85,30.85 0 0 0 164.06,399.78Z" fill="#fcc89b" stroke="#fcc495" stroke-width="0.15"/>
<path d="M143.58,416.59A57.35,57.35 0 0 1 140.95,413.14L151.80,405.53A44.10,44.10 0 0 0 153.82,408.19Z" fill="#fcc89b" stroke="#fcc698" stroke-width="0.15"/>
<path d="M133.34,425.00A70.60,70.60 0 0 1 130.11,420.75L140.95,413.14A57.35,57.35 0 0 0 143.58,416.59Z" fill="#9494f6" stroke="#9494f6" stroke-width="0.15"/>
<path d="M123.10,433.41A83.85,83.85 0 0 1 119.26,428.36L130.11,420.75A70.60,70.60 0 0 0 133.34,425.00Z" fill="#7979f3" stroke="#7979f3" stroke-width="0.15"/>
<path d="M112.86,441.82A97.10,97.10 0 0 1 108.41,435.97L119.26,428.36A83.85,83.85 0 0 0 123.10,433.41Z" fill="#8a8af5" stroke="#8a8af5" stroke-width="0.15"/>
<path d="M162.65,397.92A30.85,30.85 0 0 1 161.38,395.96L172.77,389.19A17.60,17.60 0 0 0 173.49,390.31Z" fill="#fcc496" stroke="#fcc99d" stroke-width="0.15"/>
<path d="M151.80,405.53A44.10,44.10 0 0 1 149.99,402.73L161.38,395.96A30.85,30.85 0 0 0 162.65,397.92Z" fill="#fcc090" stroke="#fcc89c" stroke-width="0.15"/>
<path d="M140.95,413.14A57.35,57.35 0 0 1 138.60,409.50L149.99,402.73A44.10,44.10 0 0 0 151.80,405.53Z" fill="#fcbf8f" stroke="#fcc699" stroke-width="0.15"/>
<path d="M130.11,420.75A70.60,70.60 0 0 1 127.21,416.26L138.60,409.50A57.35,57.35 0 0 0 140.95,413.14Z" fill="#9494f6" stroke="#9494f6" stroke-width="0.15"/>
<path d="M119.26,428.36A83.85,83.85 0 0 1 115.82,423.03L127.21,416.26A70.60,70.60 0 0 0 130.11,420.75Z" fill="#7979f3" stroke="#7979f3" stroke-width="0.15"/>
<path d="M108.41,435.97A97.10,97.10 0 0 1 104.42,429.80L115.82,423.03A83.85,83.85 0 0 0 119.26,428.36Z" fill="#8a8af5" stroke="#8a8af5" stroke-width="0.15"/>
<path d="M161.38,395.96A30.85,30.85 0 0 1 160.26,393.91L172.13,388.02A17.60,17.60 0 0 0 172.77,389.19Z" fill="#fcc597" stroke="#fcc292" stroke-width="0.15"/>
<path d="M149.99,402.73A44.10,44.10 0 0 1 148.39,399.80L160.26,393.91A30.85,30.85 0 0 0 161.38,395.96Z" fill="#fcc79b" stroke="#fcc597" stroke-width="0.15"/>
<path d="M138.60,409.50A57.35,57.35 0 0 1 136.52,405.68L148.39,399.80A44.10,44.10 0 0 0 149.99,402.73Z" fill="#fcc699" stroke="#fcca9f" stroke-width="0.15"/>
<path d="M127.21,416.26A70.60,70.60 0 0 1 124.65,411.57L136.52,405.68A57.35,57.35 0 0 0 138.60,409.50Z" fill="#9494f6" stroke="#9494f6" stroke-width="0.15"/>
<path d="M115.82,423.03A83.85,83.85 0 0 1 112.78,417.46L124.65,411.57A70.60,70.60 0 0 0 127.21,416.26Z" fill="#8a8af5" stroke="#8a8af5" stroke-width="0.15"/>
<path d="M104.42,429.80A97.10,97.10 0 0 1 100.91,423.35L112.78,417.46A83.85,83.85 0 0 0 115.82,423.03Z" fill="#8a8af5" stroke="#8a8af5" stroke-width="0.15"/>
<path d="M160.26,393.91A30.85,30.85 0 0 1 159.31,391.78L171.59,386.81A17.60,17.60 0 0 0 172.13,388.02Z" fill="#fcc293" stroke="#fcbf8e" stroke-width="0.15"/>
<path d="M148.39,399.80A44.10,44.10 0 0 1 147.02,396.75L159.31,391.78A30.85,30.85 0 0 0 160.26,393.91Z" fill="#fcc393" stroke="#fcc79a" stroke-width="0.15"/>
<path d="M136.52,405.68A57.35,57.35 0 0 1 134.74,401.73L147.02,396.75A44.10,44.10 0 0 0 148.39,399.80Z" fill="#fcc192" stroke="#fcc191" stroke-width="0.15"/>
<path d="M124.65,411.57A70.60,70.60 0 0 1 122.46,406.70L134.74,401.73A57.35,57.35 0 0 0 136.52,405.68Z" fill="#8a8af5" stroke="#8a8af5" stroke-width="0.15"/>
<path d="M112.78,417.46A83.85,83.85 0 0 1 110.18,411.67L122.46,406.70A70.60,70.60 0 0 0 124.65,411.57Z" fill="#8a8af5" stroke="#8a8af5" stroke-width="0.15"/>
<path d="M100.91,423.35A97.10,97.10 0 0 1 97.90,416.65L110.18,411.67A83.85,83.85 0 0 0 112.78,417.46Z" fill="#8585f4" stroke="#8585f4" stroke-width="0.15"/>
<path d="M159.31,391.78A30.85,30.85 0 0 1 158.51,389.59L171.13,385.55A17.60,17.60 0 0 0 171.59,386.81Z" fill="#fcca9e" stroke="#fcc79a" stroke-width="0.15"/>
<path d="M147.02,396.75A44.10,44.10 0 0 1 145.89,393.62L158.51,389.59A30.85,30.85 0 0 0 159.31,391.78Z" fill="#fcc496" stroke="#fcca9e" stroke-width="0.15"/>
<path d="M134.74,401.73A57.35,57.35 0 0 1 133.27,397.65L145.89,393.62A44.10,44.10 0 0 0 147.02,396.75Z" fill="#fcc394" stroke="#fcc79a" stroke-width="0.15"/>
<path d="M122.46,406.70A70.60,70.60 0 0 1 120.65,401.68L133.27,397.65A57.35,57.35 0 0 0 134.74,401.73Z" fill="#8a8af5" stroke="#8a8af5" stroke-width="0.15"/>
<path d="M110.18,411.67A83.85,83.85 0 0 1 108.02,405.71L120.65,401.68A70.60,70.60 0 0 0 122.46,406.70Z" fill="#8a8af5" stroke="#8a8af5" stroke-width="0.15"/>
<path d="M97.90,416.65A97.10,97.10 0 0 1 95.40,409.74L108.02,405.71A83.85,83.85 0 0 0 110.18,411.67Z" fill="#8585f4" stroke="#8585f4" stroke-width="0.15"/>
<path d="M158.51,389.59A30.85,30.85 0 0 1 157.89,387.34L170.78,384.27A17.60,17.60 0 0 0 171.13,385.55Z" fill="#fcc192" stroke="#fcc496" stroke-width="0.15"/>
<path d="M145.89,393.62A44.10,44.10 0 0 1 145.00,390.40L157.89,387.34A30.85,30.85 0 0 0 158.51,389.59Z" fill="#fcc99d" stroke="#fcca9e" stroke-width="0.15"/>
<path d="M133.27,397.65A57.35,57.35 0 0 1 132.11,393.47L145.00,390.40A44.10,44.10 0 0 0 145.89,393.62Z" fill="#fcca9e" stroke="#fcc495" stroke-width="0.15"/>
<path d="M120.65,401.68A70.60,70.60 0 0 1 119.21,396.53L132.11,393.47A57.35,57.35 0 0 0 133.27,397.65Z" fill="#9f9ff7" stroke="#9f9ff7" stroke-width="0.15"/>
<path d="M108.02,405.71A83.85,83.85 0 0 1 106.32,399.60L119.21,396.53A70.60,70.60 0 0 0 120.65,401.68Z" fill="#8a8af5" stroke="#8a8af5" stroke-width="0.15"/>
<path d="M95.40,409.74A97.10,97.10 0 0 1 93.43,402.66L106.32,399.60A83.85,83.85 0 0 0 108.02,405.71Z" fill="#8a8af5" stroke="#8a8af5" stroke-width="0.15"/>
<path d="M157.89,387.34A30.85,30.85 0 0 1 157.43,385.05L170.52,382.97A17.60,17.60 0 0 0 170.78,384.27Z" fill="#fcc698" stroke="#fcc394" stroke-width="0.15"/>
<path d="M145.00,390.40A44.10,44.10 0 0 1 144.35,387.13L157.43,385.05A30.85,30.85 0 0 0 157.89,387.34Z" fill="#fcc190" stroke="#fcc597" stroke-width="0.15"/>
<path d="M132.11,393.47A57.35,57.35 0 0 1 131.26,389.21L144.35,387.13A44.10,44.10 0 0 0 145.00,390.40Z" fill="#fcc99d" stroke="#fcc99d" stroke-width="0.15"/>
<path d="M119.21,396.53A70.60,70.60 0 0 1 118.18,391.29L131.26,389.21A57.35,57.35 0 0 0 132.11,393.47Z" fill="#9f9ff7" stroke="#9f9ff7" stroke-width="0.15"/>
<path d="M106.32,399.60A83.85,83.85 0 0 1 105.09,393.37L118.18,391.29A70.60,70.60 0 0 0 119.21,396.53Z" fill="#8a8af5" stroke="#8a8af5" stroke-width="0.15"/>
<path d="M93.43,402.66A97.10,97.10 0 0 1 92.01,395.46L105.09,393.37A83.85,83.85 0 0 0 106.32,399.60Z" fill="#8a8af5" stroke="#8a8af5" stroke-width="0.15"/>
<path d="M157.43,385.05A30.85,30.85 0 0 1 157.15,382.73L170.36,381.64A17.60,17.60 0 0 0 170.52,382.97Z" fill="#fcc89b" stroke="#fcca9f" stroke-width="0.15"/>
<path d="M144.35,387.13A44.10,44.10 0 0 1 143.95,383.82L157.15,382.73A30.85,30.85 0 0 0 157.43,385.05Z" fill="#fcc293" stroke="#fcc191" stroke-width="0.15"/>
<path d="M131.26,389.21A57.35,57.35 0 0 1 130.74,384.90L143.95,383.82A44.10,44.10 0 0 0 144.35,387.13Z" fill="#fcc496" stroke="#fcc293" stroke-width="0.15"/>
<path d="M118.18,391.29A70.60,70.60 0 0 1 117.54,385.99L130.74,384.90A57.35,57.35 0 0 0 131.26,389.21Z" fill="#9f9ff7" stroke="#9f9ff7" stroke-width="0.15"/>
<path d="M105.09,393.37A83.85,83.85 0 0 1 104.33,387.08L117.54,385.99A70.60,70.60 0 0 0 118.18,391.29Z" fill="#8a8af5" stroke="#8a8af5" stroke-width="0.15"/>
<path d="M92.01,395.46A97.10,97.10 0 0 1 91.13,388.16L104.33,387.08A83.85,83.85 0 0 0 105.09,393.37Z" fill="#8a8af5" stroke="#8a8af5" stroke-width="0.15"/>
<path d="M157.15,382.73A30.85,30.85 0 0 1 157.05,380.40L170.30,380.31A17.60,17.60 0 0 0 170.36,381.64Z" fill="#fcc292" stroke="#fcc495" stroke-width="0.15"/>
<path d="M143.95,383.82A44.10,44.10 0 0 1 143.80,380.48L157.05,380.40A30.85,30.85 0 0 0 157.15,382.73Z" fill="#fcc799" stroke="#fcc597" stroke-width="0.15"/>
<path d="M130.74,384.90A57.35,57.35 0 0 1 130.55,380.57L143.80,380.48A44.10,44.10 0 0 0 143.95,383.82Z" fill="#fcc394" stroke="#fcc99d" stroke-width="0.15"/>
<path d="M117.54,385.99A70.60,70.60 0 0 1 117.30,380.65L130.55,380.57A57.35,57.35 0 0 0 130.74,384.90Z" fill="#9f9ff7" stroke="#9f9ff7" stroke-width="0.15"/>
<path d="M104.33,387.08A83.85,83.85 0 0 1 104.05,380.74L117.30,380.65A70.60,70.60 0 0 0 117.54,385.99Z" fill="#8a8af5" stroke="#8a8af5" stroke-width="0.15"/>
<path d="M91.13,388.16A97.10,97.10 0 0 1 90.80,380.82L104.05,380.74A83.85,83.85 0 0 0 104.33,387.08Z" fill="#8a8af5" stroke="#8a8af5" stroke-width="0.15"/>
<path d="M157.05,380.40A30.85,30.85 0 0 1 157.12,378.07L170.34,378.98A17.60,17.60 0 0 0 170.30,380.31Z" fill="#fccba0" stroke="#fcc496" stroke-width="0.15"/>
<path d="M143.80,380.48A44.10,44.10 0 0 1 143.91,377.15L157.12,378.07A30.85,30.85 0 0 0 157.05,380.40Z" fill="#fcc08f" stroke="#fcbf8f" stroke-width="0.15"/>
<path d="M130.55,380.57A57.35,57.35 0 0 1 130.69,376.23L143.91,377.15A44.10,44.10 0 0 0 143.80,380.48Z" fill="#fcc99e" stroke="#fcbf8f" stroke-width="0.15"/>
<path d="M117.30,380.65A70.60,70.60 0 0 1 117.47,375.31L130.69,376.23A57.35,57.35 0 0 0 130.55,380.57Z" fill="#9f9ff7" stroke="#9f9ff7" stroke-width="0.15"/>
<path d="M104.05,380.74A83.85,83.85 0 0 1 104.25,374.40L117.47,375.31A70.60,70.60 0 0 0 117.30,380.65Z" fill="#8a8af5" stroke="#8a8af5" stroke-width="0.15"/>
<path d="M90.80,380.82A97.10,97.10 0 0 1 91.03,373.48L104.25,374.40A83.85,83.85 0 0 0 104.05,380.74Z" fill="#8a8af5" stroke="#8a8af5" stroke-width="0.15"/>
<path d="M157.12,378.07A30.85,30.85 0 0 1 157.37,375.74L170.48,377.66A17.60,17.60 0 0 0 170.34,378.98Z" fill="#fcc89b" stroke="#fcc698" stroke-width="0.15"/>
<path d="M143.91,377.15A44.10,44.10 0 0 1 144.26,373.83L157.37,375.74A30.85,30.85 0 0 0 157.12,378.07Z" fill="#fcc394" stroke="#fcc89c" stroke-width="0.15"/>
<path d="M130.69,376.23A57.35,57.35 0 0 1 131.15,371.92L144.26,373.83A44.10,44.10 0 0 0 143.91,377.15Z" fill="#fcbf8e" stroke="#fcc190" stroke-width="0.15"/>
<path d="M117.47,375.31A70.60,70.60 0 0 1 118.04,370.00L131.15,371.92A57.35,57.35 0 0 0 130.69,376.23Z" fill="#9f9ff7" stroke="#9f9ff7" stroke-width="0.15"/>
<path d="M104.25,374.40A83.85,83.85 0 0 1 104.93,368.09L118.04,370.00A70.60,70.60 0 0 0 117.47,375.31Z" fill="#8a8af5" stroke="#8a8af5" stroke-width="0.15"/>
<path d="M91.03,373.48A97.10,97.10 0 0 1 91.82,366.18L104.93,368.09A83.85,83.85 0 0 0 104.25,374.40Z" fill="#8a8af5" stroke="#8a8af5" stroke-width="0.15"/>
<path d="M157.37,375.74A30.85,30.85 0 0 1 157.80,373.45L170.73,376.35A17.60,17.60 0 0 0 170.48,377.66Z" fill="#fcc496" stroke="#fcbf8e" stroke-width="0.15"/>
<path d="M144.26,373.83A44.10,44.10 0 0 1 144.87,370.55L157.80,373.45A30.85,30.85 0 0 0 157.37,375.74Z" fill="#fcc99d" stroke="#fcc292" stroke-width="0.15"/>
<path d="M131.15,371.92A57.35,57.35 0 0 1 131.94,367.65L144.87,370.55A44.10,44.10 0 0 0 144.26,373.83Z" fill="#fcc191" stroke="#fcc08f" stroke-width="0.15"/>
<path d="M118.04,370.00A70.60,70.60 0 0 1 119.01,364.75L131.94,367.65A57.35,57.35 0 0 0 131.15,371.92Z" fill="#9f9ff7" stroke="#9f9ff7" stroke-width="0.15"/>
<path d="M104.93,368.09A83.85,83.85 0 0 1 106.08,361.85L119.01,364.75A70.60,70.60 0 0 0 118.04,370.00Z" fill="#8a8af5" stroke="#8a8af5" stroke-width="0.15"/>
<path d="M91.82,366.18A97.10,97.10 0 0 1 93.15,358.95L106.08,361.85A83.85,83.85 0 0 0 104.93,368.09Z" fill="#8a8af5" stroke="#8a8af5" stroke-width="0.15"/>
<path d="M157.80,373.45A30.85,30.85 0 0 1 158.39,371.19L171.07,375.06A17.60,17.60 0 0 0 170.73,376.35Z" fill="#fcc799" stroke="#fcc496" stroke-width="0.15"/>
<path d="M144.87,370.55A44.10,44.10 0 0 1 145.72,367.32L158.39,371.19A30.85,30.85 0 0 0 157.80,373.45Z" fill="#fcc799" stroke="#fcc79a" stroke-width="0.15"/>
<path d="M131.94,367.65A57.35,57.35 0 0 1 133.05,363.46L145.72,367.32A44.10,44.10 0 0 0 144.87,370.55Z" fill="#fcc99d" stroke="#fccb9f" stroke-width="0.15"/>
<path d="M119.01,364.75A70.60,70.60 0 0 1 120.38,359.59L133.05,363.46A57.35,57.35 0 0 0 131.94,367.65Z" fill="#9f9ff7" stroke="#9f9ff7" stroke-width="0.15"/>
<path d="M106.08,361.85A83.85,83.85 0 0 1 107.70,355.72L120.38,359.59A70.60,70.60 0 0 0 119.01,364.75Z" fill="#8a8af5" stroke="#8a8af5" stroke-width="0.15"/>
<path d="M93.15,358.95A97.10,97.10 0 0 1 95.03,351.85L107.70,355.72A83.85,83.85 0 0 0 106.08,361.85Z" fill="#9f9ff7" stroke="#9f9ff7" stroke-width="0.15"/>
<path d="M158.39,371.19A30.85,30.85 0 0 1 159.16,368.99L171.50,373.80A17.60,17.60 0 0 0 171.07,375.06Z" fill="#fcc79a" stroke="#fcc192" stroke-width="0.15"/>
<path d="M145.72,367.32A44.10,44.10 0 0 1 146.82,364.17L159.16,368.99A30.85,30.85 0 0 0 158.39,371.19Z" fill="#fcc597" stroke="#fcc191" stroke-width="0.15"/>
<path d="M133.05,363.46A57.35,57.35 0 0 1 134.47,359.36L146.82,364.17A44.10,44.10 0 0 0 145.72,367.32Z" fill="#fcbf8e" stroke="#fcc596" stroke-width="0.15"/>
<path d="M120.38,359.59A70.60,70.60 0 0 1 122.13,354.54L134.47,359.36A57.35,57.35 0 0 0 133.05,363.46Z" fill="#8a8af5" stroke="#8a8af5" stroke-width="0.15"/>
<path d="M107.70,355.72A83.85,83.85 0 0 1 109.78,349.73L122.13,354.54A70.60,70.60 0 0 0 120.38,359.59Z" fill="#7979f3" stroke="#7979f3" stroke-width="0.15"/>
<path d="M95.03,351.85A97.10,97.10 0 0 1 97.44,344.91L109.78,349.73A83.85,83.85 0 0 0 107.70,355.72Z" fill="#9f9ff7" stroke="#9f9ff7" stroke-width="0.15"/>
<path d="M159.16,368.99A30.85,30.85 0 0 1 160.09,366.85L172.03,372.58A17.60,17.60 0 0 0 171.50,373.80Z" fill="#fcc89b" stroke="#fcc191" stroke-width="0.15"/>
<path d="M146.82,364.17A44.10,44.10 0 0 1 148.14,361.11L160.09,366.85A30.85,30.85 0 0 0 159.16,368.99Z" fill="#fcc293" stroke="#fcc394" stroke-width="0.15"/>
<path d="M134.47,359.36A57.35,57.35 0 0 1 136.20,355.38L148.14,361.11A44.10,44.10 0 0 0 146.82,364.17Z" fill="#fcc79b" stroke="#fcc597" stroke-width="0.15"/>
<path d="M122.13,354.54A70.60,70.60 0 0 1 124.26,349.64L136.20,355.38A57.35,57.35 0 0 0 134.47,359.36Z" fill="#9f9ff7" stroke="#9f9ff7" stroke-width="0.15"/>
<path d="M109.78,349.73A83.85,83.85 0 0 1 112.31,343.91L124.26,349.64A70.60,70.60 0 0 0 122.13,354.54Z" fill="#7979f3" stroke="#7979f3" stroke-width="0.15"/>
<path d="M97.44,344.91A97.10,97.10 0 0 1 100.37,338.17L112.31,343.91A83.85,83.85 0 0 0 109.78,349.73Z" fill="#9f9ff7" stroke="#9f9ff7" stroke-width="0.15"/>
<path d="M160.09,366.85A30.85,30.85 0 0 1 161.18,364.78L172.66,371.40A17.60,17.60 0 0 0 172.03,372.58Z" fill="#fcc699" stroke="#fcc89c" stroke-width="0.15"/>
<path d="M148.14,361.11A44.10,44.10 0 0 1 149.70,358.16L161.18,364.78A30.85,30.85 0 0 0 160.09,366.85Z" fill="#fcc495" stroke="#fcc99c" stroke-width="0.15"/>
<path d="M136.20,355.38A57.35,57.35 0 0 1 138.22,351.54L149.70,358.16A44.10,44.10 0 0 0 148.14,361.11Z" fill="#fcca9e" stroke="#fcc090" stroke-width="0.15"/>
<path d="M124.26,349.64A70.60,70.60 0 0 1 126.75,344.92L138.22,351.54A57.35,57.35 0 0 0 136.20,355.38Z" fill="#9f9ff7" stroke="#9f9ff7" stroke-width="0.15"/>
<path d="M112.31,343.91A83.85,83.85 0 0 1 115.27,338.30L126.75,344.92A70.60,70.60 0 0 0 124.26,349.64Z" fill="#8a8af5" stroke="#8a8af5" stroke-width="0.15"/>
<path d="M100.37,338.17A97.10,97.10 0 0 1 103.79,331.68L115.27,338.30A83.85,83.85 0 0 0 112.31,343.91Z" fill="#8a8af5" stroke="#8a8af5" stroke-width="0.15"/>
<path d="M161.18,364.78A30.85,30.85 0 0 1 162.42,362.81L173.36,370.28A17.60,17.60 0 0 0 172.66,371.40Z" fill="#fcca9f" stroke="#fcc89b" stroke-width="0.15"/>
<path d="M149.70,358.16A44.10,44.10 0 0 1 151.48,355.34L162.42,362.81A30.85,30.85 0 0 0 161.18,364.78Z" fill="#fcc190" stroke="#fcc496" stroke-width="0.15"/>
<path d="M138.22,351.54A57.35,57.35 0 0 1 140.53,347.87L151.48,355.34A44.10,44.10 0 0 0 149.70,358.16Z" fill="#fcc799" stroke="#fcca9e" stroke-width="0.15"/>
<path d="M126.75,344.92A70.60,70.60 0 0 1 129.59,340.40L140.53,347.87A57.35,57.35 0 0 0 138.22,351.54Z" fill="#8a8af5" stroke="#8a8af5" stroke-width="0.15"/>
<path d="M115.27,338.30A83.85,83.85 0 0 1 118.65,332.93L129.59,340.40A70.60,70.60 0 0 0 126.75,344.92Z" fill="#8a8af5" stroke="#8a8af5" stroke-width="0.15"/>
<path d="M103.79,331.68A97.10,97.10 0 0 1 107.70,325.46L118.65,332.93A83.85,83.85 0 0 0 115.27,338.30Z" fill="#8a8af5" stroke="#8a8af5" stroke-width="0.15"/>
<path d="M162.42,362.81A30.85,30.85 0 0 1 163.81,360.93L174.16,369.21A17.60,17.60 0 0 0 173.36,370.28Z" fill="#fcc495" stroke="#fcc698" stroke-width="0.15"/>
<path d="M151.48,355.34A44.10,44.10 0 0 1 153.46,352.65L163.81,360.93A30.85,30.85 0 0 0 162.42,362.81Z" fill="#fcca9e" stroke="#fcc99c" stroke-width="0.15"/>
<path d="M140.53,347.87A57.35,57.35 0 0 1 143.11,344.38L153.46,352.65A44.10,44.10 0 0 0 151.48,355.34Z" fill="#fcca9f" stroke="#fcc596" stroke-width="0.15"/>
<path d="M129.59,340.40A70.60,70.60 0 0 1 132.77,336.10L143.11,344.38A57.35,57.35 0 0 0 140.53,347.87Z" fill="#9f9ff7" stroke="#9f9ff7" stroke-width="0.15"/>
<path d="M118.65,332.93A83.85,83.85 0 0 1 122.42,327.83L132.77,336.10A70.60,70.60 0 0 0 129.59,340.40Z" fill="#8a8af5" stroke="#8a8af5" stroke-width="0.15"/>
<path d="M107.70,325.46A97.10,97.10 0 0 1 112.07,319.55L122.42,327.83A83.85,83.85 0 0 0 118.65,332.93Z" fill="#8a8af5" stroke="#8a8af5" stroke-width="0.15"/>
<path d="M163.81,360.93A30.85,30.85 0 0 1 165.33,359.16L175.03,368.20A17.60,17.60 0 0 0 174.16,369.21Z" fill="#fcc79a" stroke="#fcc192" stroke-width="0.15"/>
<path d="M153.46,352.65A44.10,44.10 0 0 1 155.64,350.13L165.33,359.16A30.85,30.85 0 0 0 163.81,360.93Z" fill="#fcc89b" stroke="#fcc99d" stroke-width="0.15"/>
<path d="M143.11,344.38A57.35,57.35 0 0 1 145.95,341.09L155.64,350.13A44.10,44.10 0 0 0 153.46,352.65Z" fill="#fcc79a" stroke="#fcc89b" stroke-width="0.15"/>
<path d="M132.77,336.10A70.60,70.60 0 0 1 136.26,332.06L145.95,341.09A57.35,57.35 0 0 0 143.11,344.38Z" fill="#9f9ff7" stroke="#9f9ff7" stroke-width="0.15"/>
<path d="M122.42,327.83A83.85,83.85 0 0 1 126.57,323.03L136.26,332.06A70.60,70.60 0 0 0 132.77,336.10Z" fill="#8a8af5" stroke="#8a8af5" stroke-width="0.15"/>
<path d="M112.07,319.55A97.10,97.10 0 0 1 116.87,313.99L126.57,323.03A83.85,83.85 0 0 0 122.42,327.83Z" fill="#9f9ff7" stroke="#9f9ff7" stroke-width="0.15"/>
<path d="M165.33,359.16A30.85,30.85 0 0 1 166.99,357.52L175.97,367.26A17.60,17.60 0 0 0 175.03,368.20Z" fill="#fcc292" stroke="#fcca9e" stroke-width="0.15"/>
<path d="M155.64,350.13A44.10,44.10 0 0 1 158.01,347.78L166.99,357.52A30.85,30.85 0 0 0 165.33,359.16Z" fill="#fccba0" stroke="#fccba0" stroke-width="0.15"/>
<path d="M145.95,341.09A57.35,57.35 0 0 1 149.03,338.04L158.01,347.78A44.10,44.10 0 0 0 155.64,350.13Z" fill="#fcc598" stroke="#fcc89c" stroke-width="0.15"/>
<path d="M136.26,332.06A70.60,70.60 0 0 1 140.05,328.29L149.03,338.04A57.35,57.35 0 0 0 145.95,341.09Z" fill="#8a8af5" stroke="#8a8af5" stroke-width="0.15"/>
<path d="M126.57,323.03A83.85,83.85 0 0 1 131.06,318.55L140.05,328.29A70.60,70.60 0 0 0 136.26,332.06Z" fill="#8a8af5" stroke="#8a8af5" stroke-width="0.15"/>
<path d="M116.87,313.99A97.10,97.10 0 0 1 122.08,308.81L131.06,318.55A83.85,83.85 0 0 0 126.57,323.03Z" fill="#b0b0f9" stroke="#b0b0f9" stroke-width="0.15"/>
<path d="M166.99,357.52A30.85,30.85 0 0 1 168.76,356.00L176.98,366.40A17.60,17.60 0 0 0 175.97,367.26Z" fill="#fcc394" stroke="#fcca9e" stroke-width="0.15"/>
<path d="M158.01,347.78A44.10,44.10 0 0 1 160.54,345.61L168.76,356.00A30.85,30.85 0 0 0 166.99,357.52Z" fill="#fcc99d" stroke="#fcc394" stroke-width="0.15"/>
<path d="M149.03,338.04A57.35,57.35 0 0 1 152.33,335.22L160.54,345.61A44.10,44.10 0 0 0 158.01,347.78Z" fill="#fcc08f" stroke="#fcc496" stroke-width="0.15"/>
<path d="M140.05,328.29A70.60,70.60 0 0 1 144.11,324.82L152.33,335.22A57.35,57.35 0 0 0 149.03,338.04Z" fill="#7979f3" stroke="#7979f3" stroke-width="0.15"/>
<path d="M131.06,318.55A83.85,83.85 0 0 1 135.89,314.43L144.11,324.82A70.60,70.60 0 0 0 140.05,328.29Z" fill="#7979f3" stroke="#7979f3" stroke-width="0.15"/>
<path d="M122.08,308.81A97.10,97.10 0 0 1 127.67,304.04L135.89,314.43A83.85,83.85 0 0 0 131.06,318.55Z" fill="#9f9ff7" stroke="#9f9ff7" stroke-width="0.15"/>
<path d="M168.76,356.00A30.85,30.85 0 0 1 170.65,354.62L178.06,365.61A17.60,17.60 0 0 0 176.98,366.40Z" fill="#fcc698" stroke="#fcc89c" stroke-width="0.15"/>
<path d="M160.54,345.61A44.10,44.10 0 0 1 163.24,343.64L170.65,354.62A30.85,30.85 0 0 0 168.76,356.00Z" fill="#fcc597" stroke="#fcbf8f" stroke-width="0.15"/>
<path d="M152.33,335.22A57.35,57.35 0 0 1 155.83,332.66L163.24,343.64A44.10,44.10 0 0 0 160.54,345.61Z" fill="#fcc99d" stroke="#fcc08f" stroke-width="0.15"/>
<path d="M144.11,324.82A70.60,70.60 0 0 1 148.42,321.67L155.83,332.66A57.35,57.35 0 0 0 152.33,335.22Z" fill="#8a8af5" stroke="#8a8af5" stroke-width="0.15"/>
<path d="M135.89,314.43A83.85,83.85 0 0 1 141.01,310.69L148.42,321.67A70.60,70.60 0 0 0 144.11,324.82Z" fill="#6969f1" stroke="#6969f1" stroke-width="0.15"/>
<path d="M127.67,304.04A97.10,97.10 0 0 1 133.60,299.70L141.01,310.69A83.85,83.85 0 0 0 135.89,314.43Z" fill="#b0b0f9" stroke="#b0b0f9" stroke-width="0.15"/>
<path d="M170.65,354.62A30.85,30.85 0 0 1 172.63,353.39L179.19,364.91A17.60,17.60 0 0 0 178.06,365.61Z" fill="#fcc99c" stroke="#fcc191" stroke-width="0.15"/>
<path d="M163.24,343.64A44.10,44.10 0 0 1 166.07,341.88L172.63,353.39A30.85,30.85 0 0 0 170.65,354.62Z" fill="#fcc394" stroke="#fcc89c" stroke-width="0.15"/>
<path d="M155.83,332.66A57.35,57.35 0 0 1 159.51,330.37L166.07,341.88A44.10,44.10 0 0 0 163.24,343.64Z" fill="#fcc191" stroke="#fcc191" stroke-width="0.15"/>
<path d="M148.42,321.67A70.60,70.60 0 0 1 152.96,318.85L159.51,330.37A57.35,57.35 0 0 0 155.83,332.66Z" fill="#8a8af5" stroke="#8a8af5" stroke-width="0.15"/>
<path d="M141.01,310.69A83.85,83.85 0 0 1 146.40,307.34L152.96,318.85A70.60,70.60 0 0 0 148.42,321.67Z" fill="#7979f3" stroke="#7979f3" stroke-width="0.15"/>
<path d="M133.60,299.70A97.10,97.10 0 0 1 139.84,295.83L146.40,307.34A83.85,83.85 0 0 0 141.01,310.69Z" fill="#b0b0f9" stroke="#b0b0f9" stroke-width="0.15"/>
<path d="M172.63,353.39A30.85,30.85 0 0 1 174.70,352.32L180.37,364.29A17.60,17.60 0 0 0 179.19,364.91Z" fill="#fcc597" stroke="#fcc89b" stroke-width="0.15"/>
<path d="M166.07,341.88A44.10,44.10 0 0 1 169.03,340.34L174.70,352.32A30.85,30.85 0 0 0 172.63,353.39Z" fill="#fcc99d" stroke="#fcc79a" stroke-width="0.15"/>
<path d="M159.51,330.37A57.35,57.35 0 0 1 163.36,328.36L169.03,340.34A44.10,44.10 0 0 0 166.07,341.88Z" fill="#fcca9f" stroke="#fcc597" stroke-width="0.15"/>
<path d="M152.96,318.85A70.60,70.60 0 0 1 157.69,316.39L163.36,328.36A57.35,57.35 0 0 0 159.51,330.37Z" fill="#9f9ff7" stroke="#9f9ff7" stroke-width="0.15"/>
<path d="M146.40,307.34A83.85,83.85 0 0 1 152.03,304.41L157.69,316.39A70.60,70.60 0 0 0 152.96,318.85Z" fill="#7979f3" stroke="#7979f3" stroke-width="0.15"/>
<path d="M139.84,295.83A97.10,97.10 0 0 1 146.36,292.44L152.03,304.41A83.85,83.85 0 0 0 146.40,307.34Z" fill="#b0b0f9" stroke="#b0b0f9" stroke-width="0.15"/>
<path d="M174.70,352.32A30.85,30.85 0 0 1 176.85,351.40L181.59,363.77A17.60,17.60 0 0 0 180.37,364.29Z" fill="#fcca9f" stroke="#fcc090" stroke-width="0.15"/>
<path d="M169.03,340.34A44.10,44.10 0 0 1 172.10,339.03L176.85,351.40A30.85,30.85 0 0 0 174.70,352.32Z" fill="#fcc292" stroke="#fcc597" stroke-width="0.15"/>
<path d="M163.36,328.36A57.35,57.35 0 0 1 167.35,326.66L172.10,339.03A44.10,44.10 0 0 0 169.03,340.34Z" fill="#fcc293" stroke="#fcc89b" stroke-width="0.15"/>
<path d="M157.69,316.39A70.60,70.60 0 0 1 162.60,314.29L167.35,326.66A57.35,57.35 0 0 0 163.36,328.36Z" fill="#b0b0f9" stroke="#b0b0f9" stroke-width="0.15"/>
<path d="M152.03,304.41A83.85,83.85 0 0 1 157.86,301.92L162.60,314.29A70.60,70.60 0 0 0 157.69,316.39Z" fill="#8a8af5" stroke="#8a8af5" stroke-width="0.15"/>
<path d="M146.36,292.44A97.10,97.10 0 0 1 153.11,289.55L157.86,301.92A83.85,83.85 0 0 0 152.03,304.41Z" fill="#9f9ff7" stroke="#9f9ff7" stroke-width="0.15"/>
<path d="M176.85,351.40A30.85,30.85 0 0 1 179.06,350.64L182.85,363.34A17.60,17.60 0 0 0 181.59,363.77Z" fill="#fcc799" stroke="#fcc597" stroke-width="0.15"/>
<path d="M172.10,339.03A44.10,44.10 0 0 1 175.26,337.95L179.06,350.64A30.85,30.85 0 0 0 176.85,351.40Z" fill="#fcc99d" stroke="#fcc698" stroke-width="0.15"/>
<path d="M167.35,326.66A57.35,57.35 0 0 1 171.46,325.26L175.26,337.95A44.10,44.10 0 0 0 172.10,339.03Z" fill="#fcc394" stroke="#fcc495" stroke-width="0.15"/>
<path d="M162.60,314.29A70.60,70.60 0 0 1 167.66,312.56L171.46,325.26A57.35,57.35 0 0 0 167.35,326.66Z" fill="#b0b0f9" stroke="#b0b0f9" stroke-width="0.15"/>
<path d="M157.86,301.92A83.85,83.85 0 0 1 163.86,299.87L167.66,312.56A70.60,70.60 0 0 0 162.60,314.29Z" fill="#9f9ff7" stroke="#9f9ff7" stroke-width="0.15"/>
<path d="M153.11,289.55A97.10,97.10 0 0 1 160.06,287.18L163.86,299.87A83.85,83.85 0 0 0 157.86,301.92Z" fill="#6969f1" stroke="#6969f1" stroke-width="0.15"/>
<path d="M179.06,350.64A30.85,30.85 0 0 1 181.32,350.06L184.14,363.01A17.60,17.60 0 0 0 182.85,363.34Z" fill="#fcc99d" stroke="#fcca9e" stroke-width="0.15"/>
<path d="M175.26,337.95A44.10,44.10 0 0 1 178.49,337.12L181.32,350.06A30.85,30.85 0 0 0 179.06,350.64Z" fill="#fcc192" stroke="#fcc99d" stroke-width="0.15"/>
<path d="M171.46,325.26A57.35,57.35 0 0 1 175.66,324.17L178.49,337.12A44.10,44.10 0 0 0 175.26,337.95Z" fill="#fccb9f" stroke="#fcc597" stroke-width="0.15"/>
<path d="M167.66,312.56A70.60,70.60 0 0 1 172.83,311.23L175.66,324.17A57.35,57.35 0 0 0 171.46,325.26Z" fill="#9f9ff7" stroke="#9f9ff7" stroke-width="0.15"/>
<path d="M163.86,299.87A83.85,83.85 0 0 1 170.00,298.28L172.83,311.23A70.60,70.60 0 0 0 167.66,312.56Z" fill="#b0b0f9" stroke="#b0b0f9" stroke-width="0.15"/>
<path d="M160.06,287.18A97.10,97.10 0 0 1 167.18,285.34L170.00,298.28A83.85,83.85 0 0 0 163.86,299.87Z" fill="#6969f1" stroke="#6969f1" stroke-width="0.15"/>
<path d="M181.32,350.06A30.85,30.85 0 0 1 183.61,349.65L185.45,362.77A17.60,17.60 0 0 0 184.14,363.01Z" fill="#fcc698" stroke="#fcc192" stroke-width="0.15"/>
<path d="M178.49,337.12A44.10,44.10 0 0 1 181.77,336.53L183.61,349.65A30.85,30.85 0 0 0 181.32,350.06Z" fill="#fcc598" stroke="#fcc597" stroke-width="0.15"/>
<path d="M175.66,324.17A57.35,57.35 0 0 1 179.93,323.41L181.77,336.53A44.10,44.10 0 0 0 178.49,337.12Z" fill="#fcc699" stroke="#fcbf8e" stroke-width="0.15"/>
<path d="M172.83,311.23A70.60,70.60 0 0 1 178.09,310.28L179.93,323.41A57.35,57.35 0 0 0 175.66,324.17Z" fill="#9f9ff7" stroke="#9f9ff7" stroke-width="0.15"/>
<path d="M170.00,298.28A83.85,83.85 0 0 1 176.25,297.16L178.09,310.28A70.60,70.60 0 0 0 172.83,311.23Z" fill="#9f9ff7" stroke="#9f9ff7" stroke-width="0.15"/>
<path d="M167.18,285.34A97.10,97.10 0 0 1 174.41,284.04L176.25,297.16A83.85,83.85 0 0 0 170.00,298.28Z" fill="#7979f3" stroke="#7979f3" stroke-width="0.15"/>
<path d="M183.61,349.65A30.85,30.85 0 0 1 185.94,349.41L186.78,362.64A17.60,17.60 0 0 0 185.45,362.77Z" fill="#fccb9f" stroke="#fcc597" stroke-width="0.15"/>
<path d="M181.77,336.53A44.10,44.10 0 0 1 185.09,336.19L185.94,349.41A30.85,30.85 0 0 0 183.61,349.65Z" fill="#fcc495" stroke="#fcc99c" stroke-width="0.15"/>
<path d="M179.93,323.41A57.35,57.35 0 0 1 184.25,322.97L185.09,336.19A44.10,44.10 0 0 0 181.77,336.53Z" fill="#fcc698" stroke="#fcc597" stroke-width="0.15"/>
<path d="M178.09,310.28A70.60,70.60 0 0 1 183.40,309.74L184.25,322.97A57.35,57.35 0 0 0 179.93,323.41Z" fill="#8a8af5" stroke="#8a8af5" stroke-width="0.15"/>
<path d="M176.25,297.16A83.85,83.85 0 0 1 182.56,296.52L183.40,309.74A70.60,70.60 0 0 0 178.09,310.28Z" fill="#9f9ff7" stroke="#9f9ff7" stroke-width="0.15"/>
<path d="M174.41,284.04A97.10,97.10 0 0 1 181.72,283.30L182.56,296.52A83.85,83.85 0 0 0 176.25,297.16Z" fill="#7979f3" stroke="#7979f3" stroke-width="0.15"/>
<path d="M185.94,349.41A30.85,30.85 0 0 1 188.27,349.35L188.11,362.60A17.60,17.60 0 0 0 186.78,362.64Z" fill="#fcc79a" stroke="#fcc08f" stroke-width="0.15"/>
<path d="M185.09,336.19A44.10,44.10 0 0 1 188.43,336.10L188.27,349.35A30.85,30.85 0 0 0 185.94,349.41Z" fill="#fcc598" stroke="#fcc495" stroke-width="0.15"/>
<path d="M184.25,322.97A57.35,57.35 0 0 1 188.58,322.85L188.43,336.10A44.10,44.10 0 0 0 185.09,336.19Z" fill="#fcca9f" stroke="#fcca9f" stroke-width="0.15"/>
<path d="M183.40,309.74A70.60,70.60 0 0 1 188.74,309.61L188.58,322.85A57.35,57.35 0 0 0 184.25,322.97Z" fill="#6969f1" stroke="#6969f1" stroke-width="0.15"/>
<path d="M182.56,296.52A83.85,83.85 0 0 1 188.90,296.36L188.74,309.61A70.60,70.60 0 0 0 183.40,309.74Z" fill="#9f9ff7" stroke="#9f9ff7" stroke-width="0.15"/>
<path d="M181.72,283.30A97.10,97.10 0 0 1 189.06,283.11L188.90,296.36A83.85,83.85 0 0 0 182.56,296.52Z" fill="#b0b0f9" stroke="#b0b0f9" stroke-width="0.15"/>
<path d="M188.27,349.35A30.85,30.85 0 0 1 190.60,349.47L189.44,362.67A17.60,17.60 0 0 0 188.11,362.60Z" fill="#fcc293" stroke="#fcc597" stroke-width="0.15"/>
<path d="M188.43,336.10A44.10,44.10 0 0 1 191.76,336.27L190.60,349.47A30.85,30.85 0 0 0 188.27,349.35Z" fill="#fcc190" stroke="#fcc496" stroke-width="0.15"/>
<path d="M188.58,322.85A57.35,57.35 0 0 1 192.92,323.07L191.76,336.27A44.10,44.10 0 0 0 188.43,336.10Z" fill="#fcc99d" stroke="#fcca9e" stroke-width="0.15"/>
<path d="M188.74,309.61A70.60,70.60 0 0 1 194.08,309.87L192.92,323.07A57.35,57.35 0 0 0 188.58,322.85Z" fill="#7979f3" stroke="#7979f3" stroke-width="0.15"/>
<path d="M188.90,296.36A83.85,83.85 0 0 1 195.24,296.67L194.08,309.87A70.60,70.60 0 0 0 188.74,309.61Z" fill="#9f9ff7" stroke="#9f9ff7" stroke-width="0.15"/>
<path d="M189.06,283.11A97.10,97.10 0 0 1 196.40,283.47L195.24,296.67A83.85,83.85 0 0 0 188.90,296.36Z" fill="#b0b0f9" stroke="#b0b0f9" stroke-width="0.15"/>
<path d="M190.60,349.47A30.85,30.85 0 0 1 192.91,349.76L190.76,362.83A17.60,17.60 0 0 0 189.44,362.67Z" fill="#fcc597" stroke="#fcc394" stroke-width="0.15"/>
<path d="M191.76,336.27A44.10,44.10 0 0 1 195.07,336.69L192.91,349.76A30.85,30.85 0 0 0 190.60,349.47Z" fill="#fcc191" stroke="#fcc699" stroke-width="0.15"/>
<path d="M192.92,323.07A57.35,57.35 0 0 1 197.22,323.61L195.07,336.69A44.10,44.10 0 0 0 191.76,336.27Z" fill="#fcca9f" stroke="#fcc190" stroke-width="0.15"/>
<path d="M194.08,309.87A70.60,70.60 0 0 1 199.38,310.54L197.22,323.61A57.35,57.35 0 0 0 192.92,323.07Z" fill="#7979f3" stroke="#7979f3" stroke-width="0.15"/>
<path d="M195.24,296.67A83.85,83.85 0 0 1 201.53,297.47L199.38,310.54A70.60,70.60 0 0 0 194.08,309.87Z" fill="#9f9ff7" stroke="#9f9ff7" stroke-width="0.15"/>
<path d="M196.40,283.47A97.10,97.10 0 0 1 203.68,284.39L201.53,297.47A83.85,83.85 0 0 0 195.24,296.67Z" fill="#9f9ff7" stroke="#9f9ff7" stroke-width="0.15"/>
<path d="M192.91,349.76A30.85,30.85 0 0 1 195.20,350.23L192.07,363.10A17.60,17.60 0 0 0 190.76,362.83Z" fill="#fcc89c" stroke="#fcbf8e" stroke-width="0.15"/>
<path d="M195.07,336.69A44.10,44.10 0 0 1 198.34,337.35L195.20,350.23A30.85,30.85 0 0 0 192.91,349.76Z" fill="#fcc191" stroke="#fcc292" stroke-width="0.15"/>
<path d="M197.22,323.61A57.35,57.35 0 0 1 201.47,324.48L198.34,337.35A44.10,44.10 0 0 0 195.07,336.69Z" fill="#fcc79a" stroke="#fcc394" stroke-width="0.15"/>
<path d="M199.38,310.54A70.60,70.60 0 0 1 204.61,311.61L201.47,324.48A57.35,57.35 0 0 0 197.22,323.61Z" fill="#7979f3" stroke="#7979f3" stroke-width="0.15"/>
<path d="M201.53,297.47A83.85,83.85 0 0 1 207.75,298.73L204.61,311.61A70.60,70.60 0 0 0 199.38,310.54Z" fill="#9f9ff7" stroke="#9f9ff7" stroke-width="0.15"/>
<path d="M203.68,284.39A97.10,97.10 0 0 1 210.88,285.86L207.75,298.73A83.85,83.85 0 0 0 201.53,297.47Z" fill="#9f9ff7" stroke="#9f9ff7" stroke-width="0.15"/>
<path d="M195.20,350.23A30.85,30.85 0 0 1 197.45,350.86L193.35,363.46A17.60,17.60 0 0 0 192.07,363.10Z" fill="#fcc394" stroke="#fcc699" stroke-width="0.15"/>
<path d="M198.34,337.35A44.10,44.10 0 0 1 201.55,338.26L197.45,350.86A30.85,30.85 0 0 0 195.20,350.23Z" fill="#fcc090" stroke="#fcc89b" stroke-width="0.15"/>
<path d="M201.47,324.48A57.35,57.35 0 0 1 205.65,325.67L201.55,338.26A44.10,44.10 0 0 0 198.34,337.35Z" fill="#fcc090" stroke="#fcc597" stroke-width="0.15"/>
<path d="M204.61,311.61A70.60,70.60 0 0 1 209.75,313.07L205.65,325.67A57.35,57.35 0 0 0 201.47,324.48Z" fill="#7979f3" stroke="#7979f3" stroke-width="0.15"/>
<path d="M207.75,298.73A83.85,83.85 0 0 1 213.85,300.47L209.75,313.07A70.60,70.60 0 0 0 204.61,311.61Z" fill="#9f9ff7" stroke="#9f9ff7" stroke-width="0.15"/>
<path d="M210.88,285.86A97.10,97.10 0 0 1 217.95,287.87L213.85,300.47A83.85,83.85 0 0 0 207.75,298.73Z" fill="#a8a8f8" stroke="#a8a8f8" stroke-width="0.15"/>
<path d="M197.45,350.86A30.85,30.85 0 0 1 199.64,351.67L194.60,363.92A17.60,17.60 0 0 0 193.35,363.46Z" fill="#fcc293" stroke="#fcc192" stroke-width="0.15"/>
<path d="M201.55,338.26A44.10,44.10 0 0 1 204.68,339.42L199.64,351.67A30.85,30.85 0 0 0 197.45,350.86Z" fill="#fcc598" stroke="#fcc496" stroke-width="0.15"/>
<path d="M205.65,325.67A57.35,57.35 0 0 1 209.72,327.16L204.68,339.42A44.10,44.10 0 0 0 201.55,338.26Z" fill="#fcc495" stroke="#fcc495" stroke-width="0.15"/>
<path d="M209.75,313.07A70.60,70.60 0 0 1 214.76,314.91L209.72,327.16A57.35,57.35 0 0 0 205.65,325.67Z" fill="#7979f3" stroke="#7979f3" stroke-width="0.15"/>
<path d="M213.85,300.47A83.85,83.85 0 0 1 219.80,302.66L214.76,314.91A70.60,70.60 0 0 0 209.75,313.07Z" fill="#9494f6" stroke="#9494f6" stroke-width="0.15"/>
<path d="M217.95,287.87A97.10,97.10 0 0 1 224.84,290.40L219.80,302.66A83.85,83.85 0 0 0 213.85,300.47Z" fill="#9f9ff7" stroke="#9f9ff7" stroke-width="0.15"/>
<path d="M199.64,351.67A30.85,30.85 0 0 1 201.76,352.64L195.81,364.48A17.60,17.60 0 0 0 194.60,363.92Z" fill="#fcc598" stroke="#fcc191" stroke-width="0.15"/>
<path d="M204.68,339.42A44.10,44.10 0 0 1 207.71,340.80L201.76,352.64A30.85,30.85 0 0 0 199.64,351.67Z" fill="#fcc192" stroke="#fcc799" stroke-width="0.15"/>
<path d="M209.72,327.16A57.35,57.35 0 0 1 213.67,328.96L207.71,340.80A44.10,44.10 0 0 0 204.68,339.42Z" fill="#fcc799" stroke="#fcc598" stroke-width="0.15"/>
<path d="M214.76,314.91A70.60,70.60 0 0 1 219.62,317.13L213.67,328.96A57.35,57.35 0 0 0 209.72,327.16Z" fill="#7c7cf3" stroke="#7c7cf3" stroke-width="0.15"/>
<path d="M219.80,302.66A83.85,83.85 0 0 1 225.57,305.29L219.62,317.13A70.60,70.60 0 0 0 214.76,314.91Z" fill="#8a8af5" stroke="#8a8af5" stroke-width="0.15"/>
<path d="M224.84,290.40A97.10,97.10 0 0 1 231.53,293.45L225.57,305.29A83.85,83.85 0 0 0 219.80,302.66Z" fill="#a8a8f8" stroke="#a8a8f8" stroke-width="0.15"/>
<path d="M201.76,352.64A30.85,30.85 0 0 1 203.80,353.77L196.97,365.12A17.60,17.60 0 0 0 195.81,364.48Z" fill="#fcc99d" stroke="#fcc699" stroke-width="0.15"/>
<path d="M207.71,340.80A44.10,44.10 0 0 1 210.64,342.41L203.80,353.77A30.85,30.85 0 0 0 201.76,352.64Z" fill="#fcc99d" stroke="#fcc292" stroke-width="0.15"/>
<path d="M213.67,328.96A57.35,57.35 0 0 1 217.47,331.06L210.64,342.41A44.10,44.10 0 0 0 207.71,340.80Z" fill="#fcc89b" stroke="#fcc99d" stroke-width="0.15"/>
<path d="M219.62,317.13A70.60,70.60 0 0 1 224.30,319.71L217.47,331.06A57.35,57.35 0 0 0 213.67,328.96Z" fill="#7979f3" stroke="#7979f3" stroke-width="0.15"/>
<path d="M225.57,305.29A83.85,83.85 0 0 1 231.13,308.35L224.30,319.71A70.60,70.60 0 0 0 219.62,317.13Z" fill="#8a8af5" stroke="#8a8af5" stroke-width="0.15"/>
<path d="M231.53,293.45A97.10,97.10 0 0 1 237.96,297.00L231.13,308.35A83.85,83.85 0 0 0 225.57,305.29Z" fill="#a8a8f8" stroke="#a8a8f8" stroke-width="0.15"/>
<path d="M203.80,353.77A30.85,30.85 0 0 1 205.76,355.04L198.09,365.85A17.60,17.60 0 0 0 196.97,365.12Z" fill="#fcca9e" stroke="#fcc394" stroke-width="0.15"/>
<path d="M210.64,342.41A44.10,44.10 0 0 1 213.43,344.24L205.76,355.04A30.85,30.85 0 0 0 203.80,353.77Z" fill="#fcc394" stroke="#fcca9f" stroke-width="0.15"/>
<path d="M217.47,331.06A57.35,57.35 0 0 1 221.10,333.44L213.43,344.24A44.10,44.10 0 0 0 210.64,342.41Z" fill="#fcc292" stroke="#fccba0" stroke-width="0.15"/>
<path d="M224.30,319.71A70.60,70.60 0 0 1 228.77,322.63L221.10,333.44A57.35,57.35 0 0 0 217.47,331.06Z" fill="#7979f3" stroke="#7979f3" stroke-width="0.15"/>
<path d="M231.13,308.35A83.85,83.85 0 0 1 236.44,311.83L228.77,322.63A70.60,70.60 0 0 0 224.30,319.71Z" fill="#9494f6" stroke="#9494f6" stroke-width="0.15"/>
<path d="M237.96,297.00A97.10,97.10 0 0 1 244.11,301.02L236.44,311.83A83.85,83.85 0 0 0 231.13,308.35Z" fill="#9f9ff7" stroke="#9f9ff7" stroke-width="0.15"/>
<path d="M205.76,355.04A30.85,30.85 0 0 1 207.61,356.47L199.14,366.66A17.60,17.60 0 0 0 198.09,365.85Z" fill="#fcca9e" stroke="#fcc190" stroke-width="0.15"/>
<path d="M213.43,344.24A44.10,44.10 0 0 1 216.07,346.27L207.61,356.47A30.85,30.85 0 0 0 205.76,355.04Z" fill="#fcc292" stroke="#fcc89b" stroke-width="0.15"/>
<path d="M221.10,333.44A57.35,57.35 0 0 1 224.54,336.08L216.07,346.27A44.10,44.10 0 0 0 213.43,344.24Z" fill="#fcc293" stroke="#fcc090" stroke-width="0.15"/>
<path d="M228.77,322.63A70.60,70.60 0 0 1 233.00,325.89L224.54,336.08A57.35,57.35 0 0 0 221.10,333.44Z" fill="#7171f2" stroke="#7171f2" stroke-width="0.15"/>
<path d="M236.44,311.83A83.85,83.85 0 0 1 241.47,315.69L233.00,325.89A70.60,70.60 0 0 0 228.77,322.63Z" fill="#8a8af5" stroke="#8a8af5" stroke-width="0.15"/>
<path d="M244.11,301.02A97.10,97.10 0 0 1 249.93,305.50L241.47,315.69A83.85,83.85 0 0 0 236.44,311.83Z" fill="#9f9ff7" stroke="#9f9ff7" stroke-width="0.15"/>
<path d="M207.61,356.47A30.85,30.85 0 0 1 209.35,358.02L200.14,367.55A17.60,17.60 0 0 0 199.14,366.66Z" fill="#fcc99d" stroke="#fcc496" stroke-width="0.15"/>
<path d="M216.07,346.27A44.10,44.10 0 0 1 218.56,348.50L209.35,358.02A30.85,30.85 0 0 0 207.61,356.47Z" fill="#fcc89c" stroke="#fcc190" stroke-width="0.15"/>
<path d="M224.54,336.08A57.35,57.35 0 0 1 227.77,338.98L218.56,348.50A44.10,44.10 0 0 0 216.07,346.27Z" fill="#fcc495" stroke="#fcc79a" stroke-width="0.15"/>
<path d="M233.00,325.89A70.60,70.60 0 0 1 236.98,329.45L227.77,338.98A57.35,57.35 0 0 0 224.54,336.08Z" fill="#7171f2" stroke="#7171f2" stroke-width="0.15"/>
<path d="M241.47,315.69A83.85,83.85 0 0 1 246.19,319.93L236.98,329.45A70.60,70.60 0 0 0 233.00,325.89Z" fill="#9494f6" stroke="#9494f6" stroke-width="0.15"/>
<path d="M249.93,305.50A97.10,97.10 0 0 1 255.40,310.40L246.19,319.93A83.85,83.85 0 0 0 241.47,315.69Z" fill="#9f9ff7" stroke="#9f9ff7" stroke-width="0.15"/>
<path d="M209.35,358.02A30.85,30.85 0 0 1 210.96,359.71L201.06,368.51A17.60,17.60 0 0 0 200.14,367.55Z" fill="#fcbf8e" stroke="#fcc192" stroke-width="0.15"/>
<path d="M218.56,348.50A44.10,44.10 0 0 1 220.87,350.91L210.96,359.71A30.85,30.85 0 0 0 209.35,358.02Z" fill="#fcc79a" stroke="#fcca9e" stroke-width="0.15"/>
<path d="M227.77,338.98A57.35,57.35 0 0 1 230.77,342.11L220.87,350.91A44.10,44.10 0 0 0 218.56,348.50Z" fill="#fccb9f" stroke="#fcc090" stroke-width="0.15"/>
<path d="M236.98,329.45A70.60,70.60 0 0 1 240.68,333.31L230.77,342.11A57.35,57.35 0 0 0 227.77,338.98Z" fill="#7979f3" stroke="#7979f3" stroke-width="0.15"/>
<path d="M246.19,319.93A83.85,83.85 0 0 1 250.58,324.51L240.68,333.31A70.60,70.60 0 0 0 236.98,329.45Z" fill="#9f9ff7" stroke="#9f9ff7" stroke-width="0.15"/>
<path d="M255.40,310.40A97.10,97.10 0 0 1 260.49,315.70L250.58,324.51A83.85,83.85 0 0 0 246.19,319.93Z" fill="#9f9ff7" stroke="#9f9ff7" stroke-width="0.15"/>
<path d="M210.96,359.71A30.85,30.85 0 0 1 212.44,361.51L201.90,369.54A17.60,17.60 0 0 0 201.06,368.51Z" fill="#fcc597" stroke="#fcc89c" stroke-width="0.15"/>
<path d="M220.87,350.91A44.10,44.10 0 0 1 222.99,353.48L212.44,361.51A30.85,30.85 0 0 0 210.96,359.71Z" fill="#fcc597" stroke="#fcc79a" stroke-width="0.15"/>
<path d="M230.77,342.11A57.35,57.35 0 0 1 233.53,345.46L222.99,353.48A44.10,44.10 0 0 0 220.87,350.91Z" fill="#fcc191" stroke="#fcc08f" stroke-width="0.15"/>
<path d="M240.68,333.31A70.60,70.60 0 0 1 244.07,337.43L233.53,345.46A57.35,57.35 0 0 0 230.77,342.11Z" fill="#7979f3" stroke="#7979f3" stroke-width="0.15"/>
<path d="M250.58,324.51A83.85,83.85 0 0 1 254.61,329.40L244.07,337.43A70.60,70.60 0 0 0 240.68,333.31Z" fill="#8a8af5" stroke="#8a8af5" stroke-width="0.15"/>
<path d="M260.49,315.70A97.10,97.10 0 0 1 265.15,321.38L254.61,329.40A83.85,83.85 0 0 0 250.58,324.51Z" fill="#7979f3" stroke="#7979f3" stroke-width="0.15"/>
<path d="M212.44,361.51A30.85,30.85 0 0 1 213.79,363.42L202.67,370.63A17.60,17.60 0 0 0 201.90,369.54Z" fill="#fcc090" stroke="#fcbf8f" stroke-width="0.15"/>
<path d="M222.99,353.48A44.10,44.10 0 0 1 224.91,356.21L213.79,363.42A30.85,30.85 0 0 0 212.44,361.51Z" fill="#fcc698" stroke="#fcc597" stroke-width="0.15"/>
<path d="M233.53,345.46A57.35,57.35 0 0 1 236.02,349.01L224.91,356.21A44.10,44.10 0 0 0 222.99,353.48Z" fill="#fcc698" stroke="#fcc191" stroke-width="0.15"/>
<path d="M244.07,337.43A70.60,70.60 0 0 1 247.14,341.80L236.02,349.01A57.35,57.35 0 0 0 233.53,345.46Z" fill="#8a8af5" stroke="#8a8af5" stroke-width="0.15"/>
<path d="M254.61,329.40A83.85,83.85 0 0 1 258.26,334.59L247.14,341.80A70.60,70.60 0 0 0 244.07,337.43Z" fill="#8a8af5" stroke="#8a8af5" stroke-width="0.15"/>
<path d="M265.15,321.38A97.10,97.10 0 0 1 269.38,327.39L258.26,334.59A83.85,83.85 0 0 0 254.61,329.40Z" fill="#8a8af5" stroke="#8a8af5" stroke-width="0.15"/>
<path d="M213.79,363.42A30.85,30.85 0 0 1 214.98,365.43L203.35,371.77A17.60,17.60 0 0 0 202.67,370.63Z" fill="#fcc191" stroke="#fcc192" stroke-width="0.15"/>
<path d="M224.91,356.21A44.10,44.10 0 0 1 226.61,359.08L214.98,365.43A30.85,30.85 0 0 0 213.79,363.42Z" fill="#fcc99d" stroke="#fccba0" stroke-width="0.15"/>
<path d="M236.02,349.01A57.35,57.35 0 0 1 238.25,352.73L226.61,359.08A44.10,44.10 0 0 0 224.91,356.21Z" fill="#fcca9f" stroke="#fcc090" stroke-width="0.15"/>
<path d="M247.14,341.80A70.60,70.60 0 0 1 249.88,346.39L238.25,352.73A57.35,57.35 0 0 0 236.02,349.01Z" fill="#7979f3" stroke="#7979f3" stroke-width="0.15"/>
<path d="M258.26,334.59A83.85,83.85 0 0 1 261.51,340.04L249.88,346.39A70.60,70.60 0 0 0 247.14,341.80Z" fill="#b0b0f9" stroke="#b0b0f9" stroke-width="0.15"/>
<path d="M269.38,327.39A97.10,97.10 0 0 1 273.14,333.70L261.51,340.04A83.85,83.85 0 0 0 258.26,334.59Z" fill="#8a8af5" stroke="#8a8af5" stroke-width="0.15"/>
<path d="M214.98,365.43A30.85,30.85 0 0 1 216.02,367.52L203.94,372.96A17.60,17.60 0 0 0 203.35,371.77Z" fill="#fcc08f" stroke="#fcca9f" stroke-width="0.15"/>
<path d="M226.61,359.08A44.10,44.10 0 0 1 228.10,362.07L216.02,367.52A30.85,30.85 0 0 0 214.98,365.43Z" fill="#fcc596" stroke="#fcc89c" stroke-width="0.15"/>
<path d="M238.25,352.73A57.35,57.35 0 0 1 240.18,356.62L228.10,362.07A44.10,44.10 0 0 0 226.61,359.08Z" fill="#fcc394" stroke="#fcc596" stroke-width="0.15"/>
<path d="M249.88,346.39A70.60,70.60 0 0 1 252.26,351.17L240.18,356.62A57.35,57.35 0 0 0 238.25,352.73Z" fill="#7979f3" stroke="#7979f3" stroke-width="0.15"/>
<path d="M261.51,340.04A83.85,83.85 0 0 1 264.33,345.72L252.26,351.17A70.60,70.60 0 0 0 249.88,346.39Z" fill="#b0b0f9" stroke="#b0b0f9" stroke-width="0.15"/>
<path d="M273.14,333.70A97.10,97.10 0 0 1 276.41,340.27L264.33,345.72A83.85,83.85 0 0 0 261.51,340.04Z" fill="#7979f3" stroke="#7979f3" stroke-width="0.15"/>
<path d="M216.02,367.52A30.85,30.85 0 0 1 216.90,369.68L204.44,374.20A17.60,17.60 0 0 0 203.94,372.96Z" fill="#fcc597" stroke="#fcc496" stroke-width="0.15"/>
<path d="M228.10,362.07A44.10,44.10 0 0 1 229.36,365.16L216.90,369.68A30.85,30.85 0 0 0 216.02,367.52Z" fill="#fcc699" stroke="#fcbf8e" stroke-width="0.15"/>
<path d="M240.18,356.62A57.35,57.35 0 0 1 241.81,360.64L229.36,365.16A44.10,44.10 0 0 0 228.10,362.07Z" fill="#fcc79b" stroke="#fcc99d" stroke-width="0.15"/>
<path d="M252.26,351.17A70.60,70.60 0 0 1 254.27,356.12L241.81,360.64A57.35,57.35 0 0 0 240.18,356.62Z" fill="#7979f3" stroke="#7979f3" stroke-width="0.15"/>
<path d="M264.33,345.72A83.85,83.85 0 0 1 266.72,351.60L254.27,356.12A70.60,70.60 0 0 0 252.26,351.17Z" fill="#9f9ff7" stroke="#9f9ff7" stroke-width="0.15"/>
<path d="M276.41,340.27A97.10,97.10 0 0 1 279.18,347.08L266.72,351.60A83.85,83.85 0 0 0 264.33,345.72Z" fill="#8a8af5" stroke="#8a8af5" stroke-width="0.15"/>
<path d="M216.90,369.68A30.85,30.85 0 0 1 217.61,371.90L204.85,375.46A17.60,17.60 0 0 0 204.44,374.20Z" fill="#fcc191" stroke="#fcc496" stroke-width="0.15"/>
<path d="M229.36,365.16A44.10,44.10 0 0 1 230.37,368.34L217.61,371.90A30.85,30.85 0 0 0 216.90,369.68Z" fill="#fcc89b" stroke="#fcc495" stroke-width="0.15"/>
<path d="M241.81,360.64A57.35,57.35 0 0 1 243.14,364.77L230.37,368.34A44.10,44.10 0 0 0 229.36,365.16Z" fill="#fcc192" stroke="#fcc191" stroke-width="0.15"/>
<path d="M254.27,356.12A70.60,70.60 0 0 1 255.90,361.21L243.14,364.77A57.35,57.35 0 0 0 241.81,360.64Z" fill="#7979f3" stroke="#7979f3" stroke-width="0.15"/>
<path d="M266.72,351.60A83.85,83.85 0 0 1 268.66,357.64L255.90,361.21A70.60,70.60 0 0 0 254.27,356.12Z" fill="#9f9ff7" stroke="#9f9ff7" stroke-width="0.15"/>
<path d="M279.18,347.08A97.10,97.10 0 0 1 281.42,354.08L268.66,357.64A83.85,83.85 0 0 0 266.72,351.60Z" fill="#7979f3" stroke="#7979f3" stroke-width="0.15"/>
<path d="M217.61,371.90A30.85,30.85 0 0 1 218.15,374.17L205.16,376.76A17.60,17.60 0 0 0 204.85,375.46Z" fill="#fcc597" stroke="#fcbf8e" stroke-width="0.15"/>
<path d="M230.37,368.34A44.10,44.10 0 0 1 231.15,371.58L218.15,374.17A30.85,30.85 0 0 0 217.61,371.90Z" fill="#fcca9e" stroke="#fcc99c" stroke-width="0.15"/>
<path d="M243.14,364.77A57.35,57.35 0 0 1 244.14,368.99L231.15,371.58A44.10,44.10 0 0 0 230.37,368.34Z" fill="#fcc79b" stroke="#fcc99d" stroke-width="0.15"/>
<path d="M255.90,361.21A70.60,70.60 0 0 1 257.14,366.40L244.14,368.99A57.35,57.35 0 0 0 243.14,364.77Z" fill="#8a8af5" stroke="#8a8af5" stroke-width="0.15"/>
<path d="M268.66,357.64A83.85,83.85 0 0 1 270.13,363.81L257.14,366.40A70.60,70.60 0 0 0 255.90,361.21Z" fill="#9f9ff7" stroke="#9f9ff7" stroke-width="0.15"/>
<path d="M281.42,354.08A97.10,97.10 0 0 1 283.13,361.22L270.13,363.81A83.85,83.85 0 0 0 268.66,357.64Z" fill="#7979f3" stroke="#7979f3" stroke-width="0.15"/>
<path d="M218.15,374.17A30.85,30.85 0 0 1 218.52,376.47L205.37,378.07A17.60,17.60 0 0 0 205.16,376.76Z" fill="#fcc799" stroke="#fcc495" stroke-width="0.15"/>
<path d="M231.15,371.58A44.10,44.10 0 0 1 231.68,374.87L218.52,376.47A30.85,30.85 0 0 0 218.15,374.17Z" fill="#fcc699" stroke="#fcc597" stroke-width="0.15"/>
<path d="M244.14,368.99A57.35,57.35 0 0 1 244.83,373.27L231.68,374.87A44.10,44.10 0 0 0 231.15,371.58Z" fill="#fccba0" stroke="#fcc99c" stroke-width="0.15"/>
<path d="M257.14,366.40A70.60,70.60 0 0 1 257.98,371.67L244.83,373.27A57.35,57.35 0 0 0 244.14,368.99Z" fill="#7979f3" stroke="#7979f3" stroke-width="0.15"/>
<path d="M270.13,363.81A83.85,83.85 0 0 1 271.14,370.07L257.98,371.67A70.60,70.60 0 0 0 257.14,366.40Z" fill="#9f9ff7" stroke="#9f9ff7" stroke-width="0.15"/>
<path d="M283.13,361.22A97.10,97.10 0 0 1 284.29,368.47L271.14,370.07A83.85,83.85 0 0 0 270.13,363.81Z" fill="#8a8af5" stroke="#8a8af5" stroke-width="0.15"/>
<path d="M218.52,376.47A30.85,30.85 0 0 1 218.72,378.80L205.48,379.40A17.60,17.60 0 0 0 205.37,378.07Z" fill="#fcc293" stroke="#fcca9e" stroke-width="0.15"/>
<path d="M231.68,374.87A44.10,44.10 0 0 1 231.95,378.20L218.72,378.80A30.85,30.85 0 0 0 218.52,376.47Z" fill="#fcc89b" stroke="#fcc89c" stroke-width="0.15"/>
<path d="M244.83,373.27A57.35,57.35 0 0 1 245.19,377.60L231.95,378.20A44.10,44.10 0 0 0 231.68,374.87Z" fill="#fcc99d" stroke="#fcc495" stroke-width="0.15"/>
<path d="M257.98,371.67A70.60,70.60 0 0 1 258.43,377.00L245.19,377.60A57.35,57.35 0 0 0 244.83,373.27Z" fill="#7979f3" stroke="#7979f3" stroke-width="0.15"/>
<path d="M271.14,370.07A83.85,83.85 0 0 1 271.66,376.40L258.43,377.00A70.60,70.60 0 0 0 257.98,371.67Z" fill="#9f9ff7" stroke="#9f9ff7" stroke-width="0.15"/>
<path d="M284.29,368.47A97.10,97.10 0 0 1 284.90,375.80L271.66,376.40A83.85,83.85 0 0 0 271.14,370.07Z" fill="#8a8af5" stroke="#8a8af5" stroke-width="0.15"/>
</g>
<path d="M218.57,383.53A30.85,30.85 0 1 1 218.72,378.80" fill="none" stroke="#fff" stroke-width="0.42" stroke-opacity="0.7"/>
<path d="M231.74,384.96A44.10,44.10 0 1 1 231.95,378.20" fill="none" stroke="#fff" stroke-width="0.42" stroke-opacity="0.7"/>
<path d="M244.91,386.39A57.35,57.35 0 1 1 245.19,377.60" fill="none" stroke="#fff" stroke-width="0.42" stroke-opacity="0.7"/>
<path d="M258.09,387.82A70.60,70.60 0 1 1 258.43,377.00" fill="none" stroke="#fff" stroke-width="0.42" stroke-opacity="0.7"/>
<path d="M271.26,389.26A83.85,83.85 0 1 1 271.66,376.40" fill="none" stroke="#fff" stroke-width="0.42" stroke-opacity="0.7"/>
<path d="M205.21,383.38L283.40,397.74L283.32,398.17L205.20,383.46Z" fill="#fff" fill-opacity="0.8"/>
<path d="M204.92,384.68L281.80,404.91L281.69,405.33L204.90,384.76Z" fill="#fff" fill-opacity="0.8"/>
<path d="M204.53,385.95L279.67,411.94L279.52,412.35L204.51,386.03Z" fill="#fff" fill-opacity="0.8"/>
<path d="M204.05,387.19L277.01,418.78L276.83,419.19L204.02,387.27Z" fill="#fff" fill-opacity="0.8"/>
<path d="M203.48,388.39L273.83,425.41L273.63,425.80L203.44,388.47Z" fill="#fff" fill-opacity="0.8"/>
<path d="M202.81,389.55L270.17,431.78L269.93,432.15L202.77,389.62Z" fill="#fff" fill-opacity="0.8"/>
<path d="M202.06,390.65L266.03,437.85L265.77,438.20L202.01,390.71Z" fill="#fff" fill-opacity="0.8"/>
<path d="M201.23,391.69L261.45,443.59L261.16,443.92L201.18,391.75Z" fill="#fff" fill-opacity="0.8"/>
<path d="M200.33,392.67L256.45,448.97L256.14,449.28L200.27,392.72Z" fill="#fff" fill-opacity="0.8"/>
<path d="M199.35,393.57L251.05,453.96L250.72,454.24L199.29,393.62Z" fill="#fff" fill-opacity="0.8"/>
<path d="M198.30,394.40L245.30,458.52L244.94,458.78L198.24,394.44Z" fill="#fff" fill-opacity="0.8"/>
<path d="M197.20,395.14L239.21,462.63L238.84,462.87L197.13,395.18Z" fill="#fff" fill-opacity="0.8"/>
<path d="M196.04,395.80L232.83,466.28L232.44,466.48L195.97,395.84Z" fill="#fff" fill-opacity="0.8"/>
<path d="M194.84,396.37L226.20,469.43L225.79,469.60L194.77,396.40Z" fill="#fff" fill-opacity="0.8"/>
<path d="M193.60,396.85L219.34,472.07L218.92,472.21L193.52,396.88Z" fill="#fff" fill-opacity="0.8"/>
<path d="M192.32,397.23L212.31,474.18L211.88,474.29L192.25,397.25Z" fill="#fff" fill-opacity="0.8"/>
<path d="M191.02,397.52L205.13,475.76L204.70,475.84L190.94,397.53Z" fill="#fff" fill-opacity="0.8"/>
<path d="M189.70,397.71L197.86,476.79L197.42,476.83L189.63,397.72Z" fill="#fff" fill-opacity="0.8"/>
<path d="M188.38,397.79L190.53,477.26L190.09,477.28L188.30,397.80Z" fill="#fff" fill-opacity="0.8"/>
<path d="M187.04,397.78L183.18,477.19L182.74,477.16L186.96,397.78Z" fill="#fff" fill-opacity="0.8"/>
<path d="M185.72,397.66L175.86,476.55L175.42,476.50L185.64,397.65Z" fill="#fff" fill-opacity="0.8"/>
<path d="M184.40,397.45L168.61,475.36L168.18,475.28L184.33,397.43Z" fill="#fff" fill-opacity="0.8"/>
<path d="M183.11,397.14L161.47,473.63L161.05,473.51L183.03,397.11Z" fill="#fff" fill-opacity="0.8"/>
<path d="M181.84,396.72L154.48,471.37L154.07,471.22L181.77,396.70Z" fill="#fff" fill-opacity="0.8"/>
<path d="M180.61,396.22L147.69,468.58L147.29,468.40L180.54,396.19Z" fill="#fff" fill-opacity="0.8"/>
<path d="M179.42,395.62L141.12,465.29L140.73,465.08L179.35,395.58Z" fill="#fff" fill-opacity="0.8"/>
<path d="M178.28,394.94L134.82,461.51L134.45,461.27L178.21,394.89Z" fill="#fff" fill-opacity="0.8"/>
<path d="M177.19,394.17L128.83,457.26L128.48,456.99L177.13,394.12Z" fill="#fff" fill-opacity="0.8"/>
<path d="M176.17,393.32L123.17,452.58L122.84,452.28L176.11,393.27Z" fill="#fff" fill-opacity="0.8"/>
<path d="M175.21,392.39L117.88,447.48L117.58,447.16L175.15,392.34Z" fill="#fff" fill-opacity="0.8"/>
<path d="M174.32,391.40L113.00,441.99L112.72,441.65L174.27,391.34Z" fill="#fff" fill-opacity="0.8"/>
<path d="M173.52,390.34L108.54,436.15L108.29,435.79L173.47,390.28Z" fill="#fff" fill-opacity="0.8"/>
<path d="M172.79,389.22L104.54,429.99L104.31,429.61L172.75,389.16Z" fill="#fff" fill-opacity="0.8"/>
<path d="M172.15,388.06L101.01,423.55L100.82,423.15L172.12,387.99Z" fill="#fff" fill-opacity="0.8"/>
<path d="M171.60,386.84L97.98,416.85L97.82,416.44L171.57,386.77Z" fill="#fff" fill-opacity="0.8"/>
<path d="M171.15,385.59L95.47,409.95L95.34,409.53L171.12,385.52Z" fill="#fff" fill-opacity="0.8"/>
<path d="M170.79,384.31L93.48,402.88L93.38,402.45L170.77,384.23Z" fill="#fff" fill-opacity="0.8"/>
<path d="M170.52,383.00L92.04,395.67L91.97,395.24L170.51,382.93Z" fill="#fff" fill-opacity="0.8"/>
<path d="M170.36,381.68L91.15,388.38L91.11,387.94L170.36,381.60Z" fill="#fff" fill-opacity="0.8"/>
<path d="M170.30,380.35L90.80,381.04L90.80,380.60L170.30,380.27Z" fill="#fff" fill-opacity="0.8"/>
<path d="M170.34,379.02L91.02,373.70L91.05,373.26L170.34,378.94Z" fill="#fff" fill-opacity="0.8"/>
<path d="M170.48,377.70L91.79,366.39L91.85,365.96L170.49,377.62Z" fill="#fff" fill-opacity="0.8"/>
<path d="M170.72,376.39L93.11,359.17L93.20,358.74L170.74,376.31Z" fill="#fff" fill-opacity="0.8"/>
<path d="M171.06,375.10L94.97,352.06L95.10,351.64L171.08,375.02Z" fill="#fff" fill-opacity="0.8"/>
<path d="M171.49,373.84L97.36,345.12L97.52,344.71L171.52,373.77Z" fill="#fff" fill-opacity="0.8"/>
<path d="M172.02,372.62L100.27,338.37L100.46,337.97L172.05,372.55Z" fill="#fff" fill-opacity="0.8"/>
<path d="M172.64,371.44L103.68,331.87L103.90,331.48L172.68,371.37Z" fill="#fff" fill-opacity="0.8"/>
<path d="M173.34,370.31L107.58,325.64L107.83,325.27L173.39,370.24Z" fill="#fff" fill-opacity="0.8"/>
<path d="M174.13,369.24L111.93,319.72L112.21,319.38L174.18,369.18Z" fill="#fff" fill-opacity="0.8"/>
<path d="M175.00,368.23L116.72,314.15L117.02,313.83L175.05,368.17Z" fill="#fff" fill-opacity="0.8"/>
<path d="M175.94,367.29L121.92,308.96L122.25,308.66L176.00,367.23Z" fill="#fff" fill-opacity="0.8"/>
<path d="M176.95,366.42L127.50,304.18L127.84,303.90L177.01,366.37Z" fill="#fff" fill-opacity="0.8"/>
<path d="M178.02,365.63L133.42,299.83L133.78,299.58L178.09,365.59Z" fill="#fff" fill-opacity="0.8"/>
<path d="M179.15,364.93L139.65,295.94L140.03,295.72L179.22,364.89Z" fill="#fff" fill-opacity="0.8"/>
<path d="M180.33,364.31L146.16,292.53L146.56,292.34L180.41,364.28Z" fill="#fff" fill-opacity="0.8"/>
<path d="M181.56,363.78L152.90,289.63L153.32,289.47L181.63,363.75Z" fill="#fff" fill-opacity="0.8"/>
<path d="M182.82,363.35L159.85,287.24L160.27,287.11L182.89,363.33Z" fill="#fff" fill-opacity="0.8"/>
<path d="M184.10,363.01L166.96,285.38L167.39,285.29L184.18,363.00Z" fill="#fff" fill-opacity="0.8"/>
<path d="M185.41,362.78L174.19,284.07L174.63,284.01L185.49,362.77Z" fill="#fff" fill-opacity="0.8"/>
<path d="M186.74,362.64L181.50,283.31L181.94,283.28L186.82,362.63Z" fill="#fff" fill-opacity="0.8"/>
<path d="M188.07,362.60L188.84,283.10L189.28,283.11L188.15,362.60Z" fill="#fff" fill-opacity="0.8"/>
<path d="M189.40,362.66L196.18,283.45L196.62,283.49L189.48,362.67Z" fill="#fff" fill-opacity="0.8"/>
<path d="M190.72,362.83L203.47,284.36L203.90,284.43L190.80,362.84Z" fill="#fff" fill-opacity="0.8"/>
<path d="M192.03,363.09L210.67,285.81L211.10,285.91L192.10,363.11Z" fill="#fff" fill-opacity="0.8"/>
<path d="M193.31,363.45L217.74,287.80L218.16,287.94L193.38,363.48Z" fill="#fff" fill-opacity="0.8"/>
<path d="M194.56,363.91L224.64,290.32L225.05,290.49L194.63,363.94Z" fill="#fff" fill-opacity="0.8"/>
<path d="M195.77,364.46L231.33,293.35L231.72,293.55L195.84,364.49Z" fill="#fff" fill-opacity="0.8"/>
<path d="M196.94,365.10L237.77,296.89L238.15,297.11L197.01,365.14Z" fill="#fff" fill-opacity="0.8"/>
<path d="M198.06,365.83L243.93,300.89L244.29,301.15L198.12,365.87Z" fill="#fff" fill-opacity="0.8"/>
<path d="M199.11,366.63L249.76,305.36L250.10,305.64L199.17,366.69Z" fill="#fff" fill-opacity="0.8"/>
<path d="M200.11,367.52L255.24,310.25L255.56,310.55L200.16,367.58Z" fill="#fff" fill-opacity="0.8"/>
<path d="M201.03,368.48L260.34,315.54L260.63,315.87L201.08,368.54Z" fill="#fff" fill-opacity="0.8"/>
<path d="M201.88,369.51L265.02,321.20L265.29,321.55L201.93,369.57Z" fill="#fff" fill-opacity="0.8"/>
<path d="M202.65,370.59L269.26,327.20L269.50,327.57L202.69,370.66Z" fill="#fff" fill-opacity="0.8"/>
<path d="M203.33,371.74L273.03,333.50L273.25,333.89L203.37,371.81Z" fill="#fff" fill-opacity="0.8"/>
<path d="M203.93,372.93L276.32,340.07L276.50,340.48L203.96,373.00Z" fill="#fff" fill-opacity="0.8"/>
<path d="M204.43,374.16L279.10,346.87L279.25,347.29L204.46,374.23Z" fill="#fff" fill-opacity="0.8"/>
<path d="M204.84,375.43L281.36,353.86L281.48,354.29L204.86,375.50Z" fill="#fff" fill-opacity="0.8"/>
<path d="M205.15,376.72L283.08,361.00L283.17,361.44L205.17,376.80Z" fill="#fff" fill-opacity="0.8"/>
<path d="M205.37,378.04L284.26,368.26L284.32,368.69L205.38,378.11Z" fill="#fff" fill-opacity="0.8"/>
<text transform="translate(289.52,395.91) rotate(8.37)" class="gl" y="1.0">ppa012739m.g_bZIP</text>
<text transform="translate(288.11,403.49) rotate(12.70)" class="gl" y="1.0">ppa010391m.g_MADS</text>
<text transform="translate(286.13,410.93) rotate(17.04)" class="gl" y="1.0">ppa011173m.g_Tify</text>
<text transform="translate(283.60,418.20) rotate(21.38)" class="gl" y="1.0">ppa010871m.g_AUX/IAA</text>
<text transform="translate(280.52,425.26) rotate(25.71)" class="gl" y="1.0">ppa011843m.g_AUX/IAA</text>
<text transform="translate(276.92,432.07) rotate(30.05)" class="gl" y="1.0">ppa009776m.g_Whirly</text>
<text transform="translate(272.81,438.59) rotate(34.38)" class="gl" y="1.0">ppa010342m.g_AUX/IAA</text>
<text transform="translate(268.23,444.78) rotate(38.72)" class="gl" y="1.0">ppa011935m.g_AUX/IAA</text>
<text transform="translate(263.19,450.60) rotate(43.05)" class="gl" y="1.0">ppa008908m.g_zf-HD</text>
<text transform="translate(257.72,456.02) rotate(47.39)" class="gl" y="1.0">ppa008953m.g_AUX/IAA</text>
<text transform="translate(251.86,461.02) rotate(51.73)" class="gl" y="1.0">ppa007753m.g_MYB</text>
<text transform="translate(245.63,465.56) rotate(56.06)" class="gl" y="1.0">ppa010663m.g_AUX/IAA</text>
<text transform="translate(239.09,469.61) rotate(60.40)" class="gl" y="1.0">ppa008234m.g_ERF</text>
<text transform="translate(232.25,473.16) rotate(64.73)" class="gl" y="1.0">ppa007936m.g_C2C2-GATA</text>
<text transform="translate(225.17,476.18) rotate(69.07)" class="gl" y="1.0">ppa009624m.g_C2H2</text>
<text transform="translate(217.87,478.66) rotate(73.40)" class="gl" y="1.0">ppa008573m.g_WRKY</text>
<text transform="translate(210.42,480.58) rotate(77.74)" class="gl" y="1.0">ppa010090m.g_ERF</text>
<text transform="translate(202.83,481.93) rotate(82.08)" class="gl" y="1.0">ppa002415m.g_C3H</text>
<text transform="translate(195.17,482.70) rotate(86.41)" class="gl" y="1.0">ppa004099m.g_WRKY</text>
<text transform="translate(187.47,482.89) rotate(-89.25)" text-anchor="end" class="gl" y="1.0">ppa009700m.g_WRKY</text>
<text transform="translate(179.78,482.50) rotate(-84.92)" text-anchor="end" class="gl" y="1.0">ppa012253m.g_LOB</text>
<text transform="translate(172.14,481.53) rotate(-80.58)" text-anchor="end" class="gl" y="1.0">ppa005770m.g_NAC</text>
<text transform="translate(164.59,479.98) rotate(-76.24)" text-anchor="end" class="gl" y="1.0">ppa007653m.g_NAC</text>
<text transform="translate(157.19,477.87) rotate(-71.91)" text-anchor="end" class="gl" y="1.0">ppa008301m.g_NAC</text>
<text transform="translate(149.96,475.20) rotate(-67.57)" text-anchor="end" class="gl" y="1.0">ppa007193m.g_ERF</text>
<text transform="translate(142.96,471.99) rotate(-63.24)" text-anchor="end" class="gl" y="1.0">ppa007708m.g_WRKY</text>
<text transform="translate(136.22,468.27) rotate(-58.90)" text-anchor="end" class="gl" y="1.0">ppa003910m.g_GRAS</text>
<text transform="translate(129.78,464.04) rotate(-54.57)" text-anchor="end" class="gl" y="1.0">ppa009389m.g_NAC</text>
<text transform="translate(123.68,459.34) rotate(-50.23)" text-anchor="end" class="gl" y="1.0">ppa008730m.g_ERF</text>
<text transform="translate(117.95,454.20) rotate(-45.89)" text-anchor="end" class="gl" y="1.0">ppa003333m.g_WRKY</text>
<text transform="translate(112.62,448.63) rotate(-41.56)" text-anchor="end" class="gl" y="1.0">ppa010893m.g_ERF</text>
<text transform="translate(107.74,442.68) rotate(-37.22)" text-anchor="end" class="gl" y="1.0">ppa009438m.g_NAC</text>
<text transform="translate(103.31,436.37) rotate(-32.89)" text-anchor="end" class="gl" y="1.0">ppa011343m.g_HB-other</text>
<text transform="translate(99.38,429.75) rotate(-28.55)" text-anchor="end" class="gl" y="1.0">ppa002404m.g_bHLH</text>
<text transform="translate(95.96,422.85) rotate(-24.21)" text-anchor="end" class="gl" y="1.0">ppa001640m.g_HB-HD-ZIP</text>
<text transform="translate(93.07,415.72) rotate(-19.88)" text-anchor="end" class="gl" y="1.0">ppa009530m.g_NAC</text>
<text transform="translate(90.72,408.38) rotate(-15.54)" text-anchor="end" class="gl" y="1.0">ppa007445m.g_NAC</text>
<text transform="translate(88.94,400.89) rotate(-11.21)" text-anchor="end" class="gl" y="1.0" style="fill:#ee2a24;stroke:#ee2a24">ppa026640m.g_PpMYB10.1</text>
<text transform="translate(87.73,393.28) rotate(-6.87)" text-anchor="end" class="gl" y="1.0">ppa024027m.g_WRKY</text>
<text transform="translate(87.10,385.60) rotate(-2.54)" text-anchor="end" class="gl" y="1.0">ppa001179m.g_B3-ARF</text>
<text transform="translate(87.05,377.90) rotate(1.80)" text-anchor="end" class="gl" y="1.0">ppa005829m.g_bHLH</text>
<text transform="translate(87.58,370.22) rotate(6.14)" text-anchor="end" class="gl" y="1.0">ppa007697m.g_MYB-related</text>
<text transform="translate(88.70,362.60) rotate(10.47)" text-anchor="end" class="gl" y="1.0">ppa012302m.g_ERF</text>
<text transform="translate(90.38,355.08) rotate(14.81)" text-anchor="end" class="gl" y="1.0">ppa015468m.g_HSF</text>
<text transform="translate(92.63,347.72) rotate(19.14)" text-anchor="end" class="gl" y="1.0">ppa005159m.g_GARP-G2-like</text>
<text transform="translate(95.43,340.54) rotate(23.48)" text-anchor="end" class="gl" y="1.0">ppa007258m.g_C2C2-Dof</text>
<text transform="translate(98.76,333.60) rotate(27.81)" text-anchor="end" class="gl" y="1.0">ppa005148m.g_Trihelix</text>
<text transform="translate(102.61,326.93) rotate(32.15)" text-anchor="end" class="gl" y="1.0">ppa006134m.g_bHLH</text>
<text transform="translate(106.95,320.57) rotate(36.49)" text-anchor="end" class="gl" y="1.0">ppa006730m.g_MYB</text>
<text transform="translate(111.76,314.55) rotate(40.82)" text-anchor="end" class="gl" y="1.0">ppa006295m.g_bHLH</text>
<text transform="translate(117.02,308.92) rotate(45.16)" text-anchor="end" class="gl" y="1.0">ppa021410m.g_bHLH</text>
<text transform="translate(122.68,303.70) rotate(49.49)" text-anchor="end" class="gl" y="1.0">ppa002848m.g_Trihelix</text>
<text transform="translate(128.72,298.92) rotate(53.83)" text-anchor="end" class="gl" y="1.0">ppa008906m.g_MYB</text>
<text transform="translate(135.10,294.61) rotate(58.17)" text-anchor="end" class="gl" y="1.0">ppa008843m.g_C2C2-Dof</text>
<text transform="translate(141.80,290.80) rotate(62.50)" text-anchor="end" class="gl" y="1.0">ppa006906m.g_WRKY</text>
<text transform="translate(148.76,287.51) rotate(66.84)" text-anchor="end" class="gl" y="1.0">ppa007692m.g_ERF</text>
<text transform="translate(155.95,284.75) rotate(71.17)" text-anchor="end" class="gl" y="1.0">ppa002634m.g_AUX/IAA</text>
<text transform="translate(163.33,282.54) rotate(75.51)" text-anchor="end" class="gl" y="1.0">ppa010186m.g_ERF</text>
<text transform="translate(170.85,280.89) rotate(79.84)" text-anchor="end" class="gl" y="1.0">ppa006028m.g_NAC</text>
<text transform="translate(178.48,279.82) rotate(84.18)" text-anchor="end" class="gl" y="1.0">ppa011060m.g_C2H2</text>
<text transform="translate(186.16,279.33) rotate(88.52)" text-anchor="end" class="gl" y="1.0">ppa001816m.g_B3</text>
<text transform="translate(193.86,279.43) rotate(272.85)" class="gl" y="1.0">ppa023356m.g_MYB-related</text>
<text transform="translate(201.54,280.10) rotate(277.19)" class="gl" y="1.0">ppa008915m.g_ERF</text>
<text transform="translate(209.14,281.35) rotate(281.52)" class="gl" y="1.0">ppa007930m.g_WRKY</text>
<text transform="translate(216.62,283.17) rotate(285.86)" class="gl" y="1.0">ppa010578m.g_MADS</text>
<text transform="translate(223.94,285.56) rotate(290.20)" class="gl" y="1.0">ppa016075m.g_WRKY</text>
<text transform="translate(231.07,288.49) rotate(294.53)" class="gl" y="1.0">ppa007663m.g_AUX/IAA</text>
<text transform="translate(237.95,291.95) rotate(298.87)" class="gl" y="1.0">ppa008318m.g_HB-HD-ZIP</text>
<text transform="translate(244.55,295.92) rotate(303.20)" class="gl" y="1.0">ppa011366m.g_bZIP</text>
<text transform="translate(250.83,300.38) rotate(307.54)" class="gl" y="1.0">ppa010480m.g_LOB</text>
<text transform="translate(256.75,305.30) rotate(311.87)" class="gl" y="1.0">ppa008979m.g_MYB</text>
<text transform="translate(262.29,310.65) rotate(316.21)" class="gl" y="1.0">ppa010982m.g_ERF</text>
<text transform="translate(267.40,316.41) rotate(320.55)" class="gl" y="1.0">ppa009274m.g_HSF</text>
<text transform="translate(272.07,322.54) rotate(324.88)" class="gl" y="1.0">ppa007491m.g_GARP-G2-like</text>
<text transform="translate(276.26,329.00) rotate(329.22)" class="gl" y="1.0">ppa010647m.g_HB-HD-ZIP</text>
<text transform="translate(279.95,335.76) rotate(333.55)" class="gl" y="1.0">ppa011336m.g_ERF</text>
<text transform="translate(283.11,342.78) rotate(337.89)" class="gl" y="1.0" style="fill:#ee2a24;stroke:#ee2a24">ppa002684m.g_PpbHLH3</text>
<text transform="translate(285.74,350.02) rotate(342.22)" class="gl" y="1.0">ppa014728m.g_MYB-related</text>
<text transform="translate(287.81,357.44) rotate(346.56)" class="gl" y="1.0">ppa002472m.g_GRAS</text>
<text transform="translate(289.32,364.99) rotate(350.90)" class="gl" y="1.0">ppa007814m.g_bZIP</text>
<text transform="translate(290.25,372.64) rotate(355.23)" class="gl" y="1.0">ppa011140m.g_MADS</text>
<line x1="210.88" y1="382.55" x2="244.35" y2="385.98" stroke="#7d7d7d" stroke-width="0.8"/>
<line x1="245.55" y1="386.11" x2="284.30" y2="390.08" stroke="#7d7d7d" stroke-width="0.8"/>
<text transform="translate(226.74,383.50) rotate(5.85)" class="tn" text-anchor="middle">YF</text>
<text transform="translate(266.34,386.86) rotate(5.85)" class="tn" text-anchor="middle">RF</text>
<circle cx="187.80" cy="379.90" r="17.1" fill="#d6d6d6" stroke="#fff" stroke-width="0.8"/>
<circle cx="187.80" cy="379.90" r="14.2" fill="#cdcdcd"/>
<line x1="179.23" y1="378.27" x2="171.88" y2="376.88" stroke="#b4b4b4" stroke-width="0.45"/>
<line x1="179.33" y1="375.99" x2="173.09" y2="373.11" stroke="#b4b4b4" stroke-width="0.45"/>
<line x1="180.44" y1="374.27" x2="174.94" y2="370.05" stroke="#b4b4b4" stroke-width="0.45"/>
<line x1="182.33" y1="374.20" x2="176.58" y2="368.21" stroke="#b4b4b4" stroke-width="0.45"/>
<line x1="184.18" y1="372.27" x2="180.87" y2="365.26" stroke="#b4b4b4" stroke-width="0.45"/>
<line x1="186.31" y1="373.22" x2="184.27" y2="364.09" stroke="#b4b4b4" stroke-width="0.45"/>
<line x1="187.52" y1="372.67" x2="187.18" y2="363.71" stroke="#b4b4b4" stroke-width="0.45"/>
<line x1="189.41" y1="371.84" x2="190.96" y2="364.01" stroke="#b4b4b4" stroke-width="0.45"/>
<line x1="190.37" y1="373.23" x2="193.63" y2="364.78" stroke="#b4b4b4" stroke-width="0.45"/>
<line x1="193.19" y1="372.39" x2="197.25" y2="366.74" stroke="#b4b4b4" stroke-width="0.45"/>
<line x1="193.27" y1="375.56" x2="200.49" y2="369.84" stroke="#b4b4b4" stroke-width="0.45"/>
<line x1="194.06" y1="376.95" x2="202.46" y2="373.00" stroke="#b4b4b4" stroke-width="0.45"/>
<line x1="194.50" y1="378.32" x2="203.57" y2="376.17" stroke="#b4b4b4" stroke-width="0.45"/>
<line x1="196.25" y1="383.32" x2="202.82" y2="385.97" stroke="#b4b4b4" stroke-width="0.45"/>
<line x1="193.56" y1="384.13" x2="200.86" y2="389.48" stroke="#b4b4b4" stroke-width="0.45"/>
<line x1="193.17" y1="387.27" x2="197.35" y2="392.99" stroke="#b4b4b4" stroke-width="0.45"/>
<line x1="192.10" y1="388.24" x2="195.22" y2="394.30" stroke="#b4b4b4" stroke-width="0.45"/>
<line x1="189.69" y1="388.22" x2="191.38" y2="395.70" stroke="#b4b4b4" stroke-width="0.45"/>
<line x1="188.09" y1="389.22" x2="188.30" y2="396.09" stroke="#b4b4b4" stroke-width="0.45"/>
<line x1="185.50" y1="389.01" x2="183.84" y2="395.61" stroke="#b4b4b4" stroke-width="0.45"/>
<line x1="184.29" y1="386.41" x2="180.10" y2="394.16" stroke="#b4b4b4" stroke-width="0.45"/>
<line x1="183.48" y1="385.40" x2="177.79" y2="392.64" stroke="#b4b4b4" stroke-width="0.45"/>
<line x1="182.68" y1="384.21" x2="175.41" y2="390.34" stroke="#b4b4b4" stroke-width="0.45"/>
<line x1="180.34" y1="383.57" x2="173.26" y2="387.05" stroke="#b4b4b4" stroke-width="0.45"/>
<line x1="179.56" y1="382.11" x2="172.15" y2="384.09" stroke="#b4b4b4" stroke-width="0.45"/>
<line x1="180.37" y1="379.90" x2="171.60" y2="379.89" stroke="#b4b4b4" stroke-width="0.45"/>
<path d="M183.26,376.62L179.69,368.78L183.29,370.35L186.06,374.58Z" fill="#fbfbfb"/>
<path d="M185.03,375.03L184.40,368.12L186.54,370.93L187.55,374.31Z" fill="#fbfbfb"/>
<path d="M186.75,374.40L189.49,366.59L190.96,370.19L190.19,374.83Z" fill="#fbfbfb"/>
<path d="M189.24,374.49L193.70,369.63L193.22,373.17L191.75,375.93Z" fill="#fbfbfb"/>
<path d="M190.43,374.96L198.48,370.11L197.50,374.12L192.95,377.71Z" fill="#fbfbfb"/>
<path d="M192.10,376.31L198.74,374.11L196.38,376.66L193.19,378.37Z" fill="#fbfbfb"/>
<path d="M182.30,378.86L175.83,373.75L179.62,373.71L183.75,376.03Z" fill="#fbfbfb"/>
<path d="M182.26,380.72L176.45,378.90L179.82,378.04L182.49,378.12Z" fill="#fbfbfb"/>
<path d="M183.13,382.98L173.04,383.56L175.80,380.36L182.23,379.35Z" fill="#fbfbfb"/>
<path d="M184.11,384.11L176.74,387.31L178.62,384.14L182.50,381.71Z" fill="#fbfbfb"/>
<path d="M185.79,385.13L177.92,391.43L178.32,387.23L182.95,382.69Z" fill="#fbfbfb"/>
<path d="M187.45,385.49L184.28,391.38L184.05,387.87L184.95,384.72Z" fill="#fbfbfb"/>
<path d="M189.61,385.20L188.02,394.75L185.79,391.38L186.15,385.25Z" fill="#fbfbfb"/>
<path d="M191.27,384.29L193.07,392.11L190.30,389.68L188.61,385.44Z" fill="#fbfbfb"/>
<path d="M192.45,383.01L196.47,390.91L192.78,389.50L189.74,385.15Z" fill="#fbfbfb"/>
<path d="M193.18,381.46L198.98,385.90L195.53,385.40L192.08,383.52Z" fill="#fbfbfb"/>
<line x1="183.98" y1="375.01" x2="181.03" y2="371.23" stroke="#c8c8c8" stroke-width="0.5"/>
<line x1="186.20" y1="373.91" x2="185.34" y2="370.72" stroke="#c8c8c8" stroke-width="0.5"/>
<line x1="188.45" y1="373.73" x2="189.00" y2="368.46" stroke="#c8c8c8" stroke-width="0.5"/>
<line x1="190.61" y1="374.38" x2="192.34" y2="370.99" stroke="#c8c8c8" stroke-width="0.5"/>
<line x1="192.26" y1="375.59" x2="195.71" y2="372.26" stroke="#c8c8c8" stroke-width="0.5"/>
<line x1="193.42" y1="377.28" x2="195.96" y2="376.10" stroke="#c8c8c8" stroke-width="0.5"/>
<line x1="182.33" y1="376.99" x2="178.53" y2="374.97" stroke="#c8c8c8" stroke-width="0.5"/>
<line x1="181.66" y1="379.04" x2="178.39" y2="378.58" stroke="#c8c8c8" stroke-width="0.5"/>
<line x1="181.74" y1="381.19" x2="176.55" y2="382.29" stroke="#c8c8c8" stroke-width="0.5"/>
<line x1="182.54" y1="383.19" x2="179.32" y2="385.20" stroke="#c8c8c8" stroke-width="0.5"/>
<line x1="183.98" y1="384.79" x2="180.72" y2="388.96" stroke="#c8c8c8" stroke-width="0.5"/>
<line x1="185.88" y1="385.80" x2="184.86" y2="388.94" stroke="#c8c8c8" stroke-width="0.5"/>
<line x1="187.91" y1="386.10" x2="188.00" y2="391.40" stroke="#c8c8c8" stroke-width="0.5"/>
<line x1="190.02" y1="385.69" x2="191.38" y2="389.24" stroke="#c8c8c8" stroke-width="0.5"/>
<line x1="191.79" y1="384.65" x2="194.55" y2="387.94" stroke="#c8c8c8" stroke-width="0.5"/>
<line x1="193.11" y1="383.09" x2="195.51" y2="384.54" stroke="#c8c8c8" stroke-width="0.5"/>
<circle cx="188.10" cy="379.90" r="6.0" fill="none" stroke="#b8b8b8" stroke-width="0.7"/>
<circle cx="188.10" cy="379.90" r="5.4" fill="#fff"/>
<path d="M191.36,377.67L205.77,378.83L205.71,381.72L191.20,382.37Z" fill="#fff"/>
<path d="M296.76,530.03L298.59,528.73L300.74,531.62L298.87,532.94Z" fill="#f9b583" stroke="#f9b583" stroke-width="0.3"/>
<path d="M298.59,528.73L300.41,527.41L302.59,530.27L300.74,531.62Z" fill="#faba8b" stroke="#faba8b" stroke-width="0.3"/>
<path d="M300.41,527.41L302.21,526.06L304.43,528.90L302.59,530.27Z" fill="#fabf94" stroke="#fabf94" stroke-width="0.3"/>
<path d="M302.21,526.06L304.00,524.70L306.25,527.51L304.43,528.90Z" fill="#fac49d" stroke="#fac49d" stroke-width="0.3"/>
<path d="M304.00,524.70L305.77,523.31L308.06,526.09L306.25,527.51Z" fill="#fbcaa5" stroke="#fbcaa5" stroke-width="0.3"/>
<path d="M305.77,523.31L307.52,521.90L309.84,524.65L308.06,526.09Z" fill="#fbcfae" stroke="#fbcfae" stroke-width="0.3"/>
<path d="M307.52,521.90L309.26,520.47L311.61,523.19L309.84,524.65Z" fill="#fcd3b6" stroke="#fcd3b6" stroke-width="0.3"/>
<path d="M309.26,520.47L310.97,519.02L313.36,521.71L311.61,523.19Z" fill="#fcd8be" stroke="#fcd8be" stroke-width="0.3"/>
<path d="M310.97,519.02L312.68,517.54L315.10,520.21L313.36,521.71Z" fill="#fcddc6" stroke="#fcddc6" stroke-width="0.3"/>
<path d="M312.68,517.54L314.36,516.05L316.81,518.68L315.10,520.21Z" fill="#fde1cd" stroke="#fde1cd" stroke-width="0.3"/>
<path d="M314.36,516.05L316.03,514.53L318.51,517.14L316.81,518.68Z" fill="#fde6d5" stroke="#fde6d5" stroke-width="0.3"/>
<path d="M316.03,514.53L317.67,513.00L320.19,515.57L318.51,517.14Z" fill="#fdeadc" stroke="#fdeadc" stroke-width="0.3"/>
<path d="M317.67,513.00L319.30,511.44L321.85,513.99L320.19,515.57Z" fill="#feeee3" stroke="#feeee3" stroke-width="0.3"/>
<path d="M319.30,511.44L320.91,509.87L323.49,512.38L321.85,513.99Z" fill="#fef2e9" stroke="#fef2e9" stroke-width="0.3"/>
<path d="M320.91,509.87L322.51,508.27L325.12,510.75L323.49,512.38Z" fill="#fef6ef" stroke="#fef6ef" stroke-width="0.3"/>
<path d="M322.51,508.27L324.08,506.66L326.72,509.11L325.12,510.75Z" fill="#fff9f5" stroke="#fff9f5" stroke-width="0.3"/>
<path d="M324.08,506.66L325.63,505.02L328.30,507.44L326.72,509.11Z" fill="#fffcfa" stroke="#fffcfa" stroke-width="0.3"/>
<path d="M325.63,505.02L327.17,503.37L329.86,505.75L328.30,507.44Z" fill="#fffffe" stroke="#fffffe" stroke-width="0.3"/>
<path d="M327.17,503.37L328.68,501.70L331.41,504.05L329.86,505.75Z" fill="#f8f8ff" stroke="#f8f8ff" stroke-width="0.3"/>
<path d="M328.68,501.70L330.18,500.01L332.93,502.33L331.41,504.05Z" fill="#eeeefe" stroke="#eeeefe" stroke-width="0.3"/>
<path d="M330.18,500.01L331.65,498.30L334.43,500.58L332.93,502.33Z" fill="#e5e5fd" stroke="#e5e5fd" stroke-width="0.3"/>
<path d="M331.65,498.30L333.10,496.57L335.91,498.82L334.43,500.58Z" fill="#dbdbfc" stroke="#dbdbfc" stroke-width="0.3"/>
<path d="M333.10,496.57L334.53,494.83L337.37,497.04L335.91,498.82Z" fill="#d1d1fc" stroke="#d1d1fc" stroke-width="0.3"/>
<path d="M334.53,494.83L335.95,493.06L338.81,495.25L337.37,497.04Z" fill="#c8c8fb" stroke="#c8c8fb" stroke-width="0.3"/>
<path d="M335.95,493.06L337.34,491.28L340.23,493.43L338.81,495.25Z" fill="#bebefa" stroke="#bebefa" stroke-width="0.3"/>
<path d="M337.34,491.28L338.70,489.48L341.62,491.60L340.23,493.43Z" fill="#b4b4fa" stroke="#b4b4fa" stroke-width="0.3"/>
<path d="M338.70,489.48L340.05,487.67L342.99,489.75L341.62,491.60Z" fill="#ababf9" stroke="#ababf9" stroke-width="0.3"/>
<path d="M340.05,487.67L341.38,485.84L344.34,487.88L342.99,489.75Z" fill="#a1a1f8" stroke="#a1a1f8" stroke-width="0.3"/>
<path d="M341.38,485.84L342.68,483.99L345.67,486.00L344.34,487.88Z" fill="#9797f8" stroke="#9797f8" stroke-width="0.3"/>
<path d="M342.68,483.99L343.96,482.13L346.98,484.10L345.67,486.00Z" fill="#8e8ef7" stroke="#8e8ef7" stroke-width="0.3"/>
<path d="M343.96,482.13L345.22,480.25L348.26,482.18L346.98,484.10Z" fill="#8484f6" stroke="#8484f6" stroke-width="0.3"/>
<path d="M345.22,480.25L346.46,478.36L349.52,480.25L348.26,482.18Z" fill="#7a7af6" stroke="#7a7af6" stroke-width="0.3"/>
<path d="M346.46,478.36L347.67,476.45L350.75,478.30L349.52,480.25Z" fill="#7171f5" stroke="#7171f5" stroke-width="0.3"/>
<path d="M347.67,476.45L348.86,474.52L351.97,476.34L350.75,478.30Z" fill="#6767f4" stroke="#6767f4" stroke-width="0.3"/>
<path d="M348.86,474.52L350.03,472.58L353.15,474.36L351.97,476.34Z" fill="#5d5df4" stroke="#5d5df4" stroke-width="0.3"/>
<path d="M350.03,472.58L351.17,470.63L354.32,472.37L353.15,474.36Z" fill="#5454f3" stroke="#5454f3" stroke-width="0.3"/>
<path d="M351.17,470.63L352.29,468.66L355.46,470.37L354.32,472.37Z" fill="#4a4af2" stroke="#4a4af2" stroke-width="0.3"/>
<path d="M352.29,468.66L353.39,466.68L356.58,468.35L355.46,470.37Z" fill="#4040f2" stroke="#4040f2" stroke-width="0.3"/>
<path d="M353.39,466.68L354.46,464.68L357.67,466.31L356.58,468.35Z" fill="#3737f1" stroke="#3737f1" stroke-width="0.3"/>
<path d="M354.46,464.68L355.51,462.67L358.74,464.26L357.67,466.31Z" fill="#2d2df0" stroke="#2d2df0" stroke-width="0.3"/>
<line x1="298.87" y1="532.94" x2="300.05" y2="534.56" stroke="#333" stroke-width="0.5"/>
<text transform="translate(300.75,535.53) rotate(54.00)" class="cl" y="0.4">-1.20</text>
<line x1="307.06" y1="526.88" x2="308.32" y2="528.43" stroke="#333" stroke-width="0.5"/>
<text transform="translate(309.07,529.36) rotate(50.91)" class="cl" y="0.4">-0.90</text>
<line x1="314.91" y1="520.38" x2="316.25" y2="521.86" stroke="#333" stroke-width="0.5"/>
<text transform="translate(317.05,522.75) rotate(47.82)" class="cl" y="0.4">-0.60</text>
<line x1="322.40" y1="513.45" x2="323.82" y2="514.86" stroke="#333" stroke-width="0.5"/>
<text transform="translate(324.67,515.71) rotate(44.73)" class="cl" y="0.4">-0.30</text>
<line x1="329.52" y1="506.13" x2="331.01" y2="507.46" stroke="#333" stroke-width="0.5"/>
<text transform="translate(331.91,508.26) rotate(41.64)" class="cl" y="0.4">0.00</text>
<line x1="336.24" y1="498.43" x2="337.80" y2="499.67" stroke="#333" stroke-width="0.5"/>
<text transform="translate(338.74,500.42) rotate(38.56)" class="cl" y="0.4">0.30</text>
<line x1="342.54" y1="490.37" x2="344.17" y2="491.53" stroke="#333" stroke-width="0.5"/>
<text transform="translate(345.14,492.22) rotate(35.47)" class="cl" y="0.4">0.60</text>
<line x1="348.40" y1="481.97" x2="350.09" y2="483.04" stroke="#333" stroke-width="0.5"/>
<text transform="translate(351.10,483.68) rotate(32.38)" class="cl" y="0.4">0.90</text>
<line x1="353.81" y1="473.26" x2="355.55" y2="474.24" stroke="#333" stroke-width="0.5"/>
<text transform="translate(356.60,474.82) rotate(29.29)" class="cl" y="0.4">1.20</text>
<line x1="358.74" y1="464.26" x2="360.53" y2="465.15" stroke="#333" stroke-width="0.5"/>
<text transform="translate(361.61,465.68) rotate(26.20)" class="cl" y="0.4">1.50</text>
</svg>
</body></html>
